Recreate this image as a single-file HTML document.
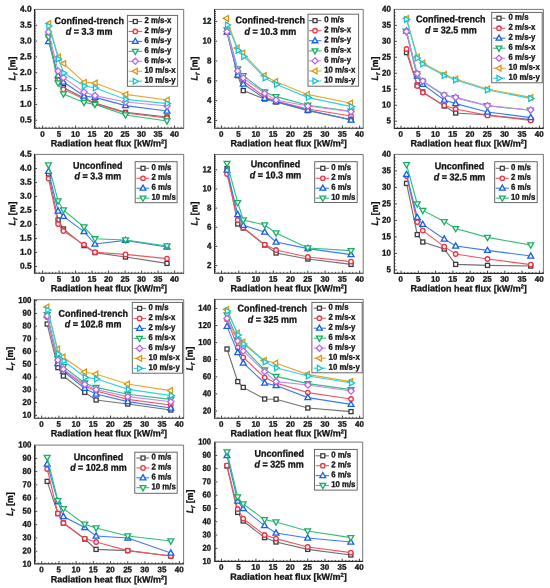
<!DOCTYPE html>
<html lang="en"><head><meta charset="utf-8"><title>Radiation heat flux figure</title>
<style>
html,body{margin:0;padding:0;background:#fff;}
body{width:550px;height:588px;overflow:hidden;}
svg{display:block;filter:blur(0.35px);}
text{stroke:#111;stroke-width:.28px;}
</style></head><body>
<svg width="550" height="588" viewBox="0 0 550 588" font-family="'Liberation Sans', Arial, sans-serif" font-weight="bold" fill="#111">
<rect width="550" height="588" fill="#fff"/>
<g>
<path d="M34.50 9.40H183.70V128.20" fill="none" stroke="#666" stroke-width="0.9"/>
<path d="M42.60 128.20v-2.6M59.10 128.20v-2.6M75.60 128.20v-2.6M92.10 128.20v-2.6M108.60 128.20v-2.6M125.10 128.20v-2.6M141.60 128.20v-2.6M158.10 128.20v-2.6M174.60 128.20v-2.6M34.50 25.23h2.6M34.50 41.06h2.6M34.50 56.89h2.6M34.50 72.72h2.6M34.50 88.55h2.6M34.50 104.38h2.6M34.50 120.21h2.6" stroke="#2a2a2a" stroke-width="0.9" fill="none"/>
<path d="M36.00 128.20v-1.4M39.30 128.20v-1.4M45.90 128.20v-1.4M49.20 128.20v-1.4M52.50 128.20v-1.4M55.80 128.20v-1.4M62.40 128.20v-1.4M65.70 128.20v-1.4M69.00 128.20v-1.4M72.30 128.20v-1.4M78.90 128.20v-1.4M82.20 128.20v-1.4M85.50 128.20v-1.4M88.80 128.20v-1.4M95.40 128.20v-1.4M98.70 128.20v-1.4M102.00 128.20v-1.4M105.30 128.20v-1.4M111.90 128.20v-1.4M115.20 128.20v-1.4M118.50 128.20v-1.4M121.80 128.20v-1.4M128.40 128.20v-1.4M131.70 128.20v-1.4M135.00 128.20v-1.4M138.30 128.20v-1.4M144.90 128.20v-1.4M148.20 128.20v-1.4M151.50 128.20v-1.4M154.80 128.20v-1.4M161.40 128.20v-1.4M164.70 128.20v-1.4M168.00 128.20v-1.4M171.30 128.20v-1.4M177.90 128.20v-1.4M181.20 128.20v-1.4M34.50 10.98h1.4M34.50 12.57h1.4M34.50 14.15h1.4M34.50 15.73h1.4M34.50 17.32h1.4M34.50 18.90h1.4M34.50 20.48h1.4M34.50 22.06h1.4M34.50 23.65h1.4M34.50 26.81h1.4M34.50 28.40h1.4M34.50 29.98h1.4M34.50 31.56h1.4M34.50 33.14h1.4M34.50 34.73h1.4M34.50 36.31h1.4M34.50 37.89h1.4M34.50 39.48h1.4M34.50 42.64h1.4M34.50 44.23h1.4M34.50 45.81h1.4M34.50 47.39h1.4M34.50 48.98h1.4M34.50 50.56h1.4M34.50 52.14h1.4M34.50 53.72h1.4M34.50 55.31h1.4M34.50 58.47h1.4M34.50 60.06h1.4M34.50 61.64h1.4M34.50 63.22h1.4M34.50 64.80h1.4M34.50 66.39h1.4M34.50 67.97h1.4M34.50 69.55h1.4M34.50 71.14h1.4M34.50 74.30h1.4M34.50 75.89h1.4M34.50 77.47h1.4M34.50 79.05h1.4M34.50 80.64h1.4M34.50 82.22h1.4M34.50 83.80h1.4M34.50 85.38h1.4M34.50 86.97h1.4M34.50 90.13h1.4M34.50 91.72h1.4M34.50 93.30h1.4M34.50 94.88h1.4M34.50 96.47h1.4M34.50 98.05h1.4M34.50 99.63h1.4M34.50 101.21h1.4M34.50 102.80h1.4M34.50 105.96h1.4M34.50 107.55h1.4M34.50 109.13h1.4M34.50 110.71h1.4M34.50 112.30h1.4M34.50 113.88h1.4M34.50 115.46h1.4M34.50 117.04h1.4M34.50 118.63h1.4M34.50 121.79h1.4M34.50 123.38h1.4M34.50 124.96h1.4M34.50 126.54h1.4" stroke="#333" stroke-width="0.75" fill="none"/>
<path d="M34.50 9.00V128.20H184.10" fill="none" stroke="#2a2a2a" stroke-width="1.15"/>
<text transform="translate(31.60 11.80) rotate(0.04) scale(1 1.030)" font-size="8.40" text-anchor="end">4.0</text>
<text transform="translate(31.60 27.63) rotate(0.04) scale(1 1.030)" font-size="8.40" text-anchor="end">3.5</text>
<text transform="translate(31.60 43.46) rotate(0.04) scale(1 1.030)" font-size="8.40" text-anchor="end">3.0</text>
<text transform="translate(31.60 59.29) rotate(0.04) scale(1 1.030)" font-size="8.40" text-anchor="end">2.5</text>
<text transform="translate(31.60 75.12) rotate(0.04) scale(1 1.030)" font-size="8.40" text-anchor="end">2.0</text>
<text transform="translate(31.60 90.95) rotate(0.04) scale(1 1.030)" font-size="8.40" text-anchor="end">1.5</text>
<text transform="translate(31.60 106.78) rotate(0.04) scale(1 1.030)" font-size="8.40" text-anchor="end">1.0</text>
<text transform="translate(31.60 122.61) rotate(0.04) scale(1 1.030)" font-size="8.40" text-anchor="end">0.5</text>
<text transform="translate(42.40 136.70) rotate(0.04)" font-size="8.00" text-anchor="middle">0</text>
<text transform="translate(58.90 136.70) rotate(0.04)" font-size="8.00" text-anchor="middle">5</text>
<text transform="translate(75.40 136.70) rotate(0.04)" font-size="8.00" text-anchor="middle">10</text>
<text transform="translate(91.90 136.70) rotate(0.04)" font-size="8.00" text-anchor="middle">15</text>
<text transform="translate(108.40 136.70) rotate(0.04)" font-size="8.00" text-anchor="middle">20</text>
<text transform="translate(124.90 136.70) rotate(0.04)" font-size="8.00" text-anchor="middle">25</text>
<text transform="translate(141.40 136.70) rotate(0.04)" font-size="8.00" text-anchor="middle">30</text>
<text transform="translate(157.90 136.70) rotate(0.04)" font-size="8.00" text-anchor="middle">35</text>
<text transform="translate(174.40 136.70) rotate(0.04)" font-size="8.00" text-anchor="middle">40</text>
<text transform="translate(108.90 146.30) rotate(0.04)" font-size="9.02" text-anchor="middle">Radiation heat flux [kW/m<tspan font-size="5.6" dy="-3.2">2</tspan><tspan dy="3.2">]</tspan></text>
<text transform="translate(15.20 68.50) rotate(-90.04) scale(1 1.080)" font-size="8.70" text-anchor="middle"><tspan font-style="italic">L</tspan><tspan font-style="italic" font-size="6.4" dy="1.8">r</tspan><tspan dy="-1.8"> [m]</tspan></text>
<text transform="translate(89.20 24.00) rotate(0.04) scale(1 1.080)" font-size="9.00" text-anchor="middle">Confined-trench</text>
<text transform="translate(89.20 34.80) rotate(0.04) scale(1 1.080)" font-size="9.00" text-anchor="middle"><tspan font-style="italic">d</tspan> = 3.3 mm</text>
<polyline points="48.51,35.00 58.10,79.60 63.42,87.60 84.00,98.00 94.96,103.00 125.50,112.40 167.00,117.00" fill="none" stroke="#707070" stroke-width="1.12"/>
<rect x="46.48" y="32.97" width="4.06" height="4.06" fill="#fff" stroke="#3a3a3a" stroke-width="1.30" stroke-linejoin="miter"/>
<rect x="56.08" y="77.57" width="4.06" height="4.06" fill="#fff" stroke="#3a3a3a" stroke-width="1.30" stroke-linejoin="miter"/>
<rect x="61.39" y="85.57" width="4.06" height="4.06" fill="#fff" stroke="#3a3a3a" stroke-width="1.30" stroke-linejoin="miter"/>
<rect x="81.97" y="95.97" width="4.06" height="4.06" fill="#fff" stroke="#3a3a3a" stroke-width="1.30" stroke-linejoin="miter"/>
<rect x="92.93" y="100.97" width="4.06" height="4.06" fill="#fff" stroke="#3a3a3a" stroke-width="1.30" stroke-linejoin="miter"/>
<rect x="123.47" y="110.37" width="4.06" height="4.06" fill="#fff" stroke="#3a3a3a" stroke-width="1.30" stroke-linejoin="miter"/>
<rect x="164.97" y="114.97" width="4.06" height="4.06" fill="#fff" stroke="#3a3a3a" stroke-width="1.30" stroke-linejoin="miter"/>
<polyline points="48.51,36.00 58.10,80.00 63.42,89.40 84.00,99.00 94.96,103.60 125.50,113.00 167.00,118.00" fill="none" stroke="#f25560" stroke-width="1.12"/>
<circle cx="48.51" cy="36.00" r="2.24" fill="#fff" stroke="#ee3344" stroke-width="1.30" stroke-linejoin="miter"/>
<circle cx="58.10" cy="80.00" r="2.24" fill="#fff" stroke="#ee3344" stroke-width="1.30" stroke-linejoin="miter"/>
<circle cx="63.42" cy="89.40" r="2.24" fill="#fff" stroke="#ee3344" stroke-width="1.30" stroke-linejoin="miter"/>
<circle cx="84.00" cy="99.00" r="2.24" fill="#fff" stroke="#ee3344" stroke-width="1.30" stroke-linejoin="miter"/>
<circle cx="94.96" cy="103.60" r="2.24" fill="#fff" stroke="#ee3344" stroke-width="1.30" stroke-linejoin="miter"/>
<circle cx="125.50" cy="113.00" r="2.24" fill="#fff" stroke="#ee3344" stroke-width="1.30" stroke-linejoin="miter"/>
<circle cx="167.00" cy="118.00" r="2.24" fill="#fff" stroke="#ee3344" stroke-width="1.30" stroke-linejoin="miter"/>
<polyline points="48.51,41.60 58.10,75.60 63.42,82.00 84.00,96.00 94.96,97.40 125.50,105.60 167.00,111.00" fill="none" stroke="#3a7cf0" stroke-width="1.12"/>
<path d="M48.51 38.41L51.46 43.66L45.56 43.66Z" fill="#fff" stroke="#1560e8" stroke-width="1.30" stroke-linejoin="miter"/>
<path d="M58.10 72.41L61.05 77.66L55.15 77.66Z" fill="#fff" stroke="#1560e8" stroke-width="1.30" stroke-linejoin="miter"/>
<path d="M63.42 78.81L66.37 84.06L60.47 84.06Z" fill="#fff" stroke="#1560e8" stroke-width="1.30" stroke-linejoin="miter"/>
<path d="M84.00 92.81L86.95 98.06L81.05 98.06Z" fill="#fff" stroke="#1560e8" stroke-width="1.30" stroke-linejoin="miter"/>
<path d="M94.96 94.21L97.91 99.47L92.01 99.47Z" fill="#fff" stroke="#1560e8" stroke-width="1.30" stroke-linejoin="miter"/>
<path d="M125.50 102.41L128.45 107.66L122.55 107.66Z" fill="#fff" stroke="#1560e8" stroke-width="1.30" stroke-linejoin="miter"/>
<path d="M167.00 107.81L169.95 113.06L164.05 113.06Z" fill="#fff" stroke="#1560e8" stroke-width="1.30" stroke-linejoin="miter"/>
<polyline points="48.51,37.00 58.10,83.00 63.42,94.00 84.00,102.40 94.96,104.40 125.50,115.00 167.00,121.00" fill="none" stroke="#2fbf78" stroke-width="1.12"/>
<path d="M48.51 40.19L51.46 34.94L45.56 34.94Z" fill="#fff" stroke="#18b064" stroke-width="1.30" stroke-linejoin="miter"/>
<path d="M58.10 86.19L61.05 80.94L55.15 80.94Z" fill="#fff" stroke="#18b064" stroke-width="1.30" stroke-linejoin="miter"/>
<path d="M63.42 97.19L66.37 91.94L60.47 91.94Z" fill="#fff" stroke="#18b064" stroke-width="1.30" stroke-linejoin="miter"/>
<path d="M84.00 105.59L86.95 100.34L81.05 100.34Z" fill="#fff" stroke="#18b064" stroke-width="1.30" stroke-linejoin="miter"/>
<path d="M94.96 107.59L97.91 102.34L92.01 102.34Z" fill="#fff" stroke="#18b064" stroke-width="1.30" stroke-linejoin="miter"/>
<path d="M125.50 118.19L128.45 112.94L122.55 112.94Z" fill="#fff" stroke="#18b064" stroke-width="1.30" stroke-linejoin="miter"/>
<path d="M167.00 124.19L169.95 118.94L164.05 118.94Z" fill="#fff" stroke="#18b064" stroke-width="1.30" stroke-linejoin="miter"/>
<polyline points="48.51,32.00 58.10,71.00 63.42,77.60 84.00,92.00 94.96,95.60 125.50,102.00 167.00,106.00" fill="none" stroke="#c98af0" stroke-width="1.12"/>
<path d="M48.51 28.87L51.65 32.00L48.51 35.13L45.38 32.00Z" fill="#fff" stroke="#b866e8" stroke-width="1.30" stroke-linejoin="miter"/>
<path d="M58.10 67.86L61.24 71.00L58.10 74.14L54.97 71.00Z" fill="#fff" stroke="#b866e8" stroke-width="1.30" stroke-linejoin="miter"/>
<path d="M63.42 74.46L66.55 77.60L63.42 80.73L60.28 77.60Z" fill="#fff" stroke="#b866e8" stroke-width="1.30" stroke-linejoin="miter"/>
<path d="M84.00 88.86L87.14 92.00L84.00 95.14L80.86 92.00Z" fill="#fff" stroke="#b866e8" stroke-width="1.30" stroke-linejoin="miter"/>
<path d="M94.96 92.46L98.09 95.60L94.96 98.73L91.82 95.60Z" fill="#fff" stroke="#b866e8" stroke-width="1.30" stroke-linejoin="miter"/>
<path d="M125.50 98.86L128.63 102.00L125.50 105.14L122.36 102.00Z" fill="#fff" stroke="#b866e8" stroke-width="1.30" stroke-linejoin="miter"/>
<path d="M167.00 102.86L170.13 106.00L167.00 109.14L163.87 106.00Z" fill="#fff" stroke="#b866e8" stroke-width="1.30" stroke-linejoin="miter"/>
<polyline points="48.71,23.60 58.30,57.00 63.62,63.60 84.20,82.40 95.16,83.00 125.70,94.40 167.20,100.00" fill="none" stroke="#e6a830" stroke-width="1.12"/>
<path d="M45.61 23.60L50.72 20.73L50.72 26.48Z" fill="#fff" stroke="#dc9612" stroke-width="1.30" stroke-linejoin="miter"/>
<path d="M55.20 57.00L60.32 54.12L60.32 59.88Z" fill="#fff" stroke="#dc9612" stroke-width="1.30" stroke-linejoin="miter"/>
<path d="M60.51 63.60L65.63 60.73L65.63 66.47Z" fill="#fff" stroke="#dc9612" stroke-width="1.30" stroke-linejoin="miter"/>
<path d="M81.09 82.40L86.21 79.53L86.21 85.28Z" fill="#fff" stroke="#dc9612" stroke-width="1.30" stroke-linejoin="miter"/>
<path d="M92.05 83.00L97.17 80.12L97.17 85.88Z" fill="#fff" stroke="#dc9612" stroke-width="1.30" stroke-linejoin="miter"/>
<path d="M122.59 94.40L127.71 91.53L127.71 97.28Z" fill="#fff" stroke="#dc9612" stroke-width="1.30" stroke-linejoin="miter"/>
<path d="M164.09 100.00L169.21 97.12L169.21 102.88Z" fill="#fff" stroke="#dc9612" stroke-width="1.30" stroke-linejoin="miter"/>
<polyline points="48.91,26.00 58.50,59.00 63.82,73.00 84.40,86.00 95.36,88.00 125.90,99.40 167.40,103.60" fill="none" stroke="#30d4dc" stroke-width="1.12"/>
<path d="M52.02 26.00L46.90 23.12L46.90 28.88Z" fill="#fff" stroke="#14c4d0" stroke-width="1.30" stroke-linejoin="miter"/>
<path d="M61.61 59.00L56.49 56.12L56.49 61.88Z" fill="#fff" stroke="#14c4d0" stroke-width="1.30" stroke-linejoin="miter"/>
<path d="M66.92 73.00L61.80 70.12L61.80 75.88Z" fill="#fff" stroke="#14c4d0" stroke-width="1.30" stroke-linejoin="miter"/>
<path d="M87.51 86.00L82.39 83.12L82.39 88.88Z" fill="#fff" stroke="#14c4d0" stroke-width="1.30" stroke-linejoin="miter"/>
<path d="M98.46 88.00L93.34 85.12L93.34 90.88Z" fill="#fff" stroke="#14c4d0" stroke-width="1.30" stroke-linejoin="miter"/>
<path d="M129.00 99.40L123.89 96.53L123.89 102.28Z" fill="#fff" stroke="#14c4d0" stroke-width="1.30" stroke-linejoin="miter"/>
<path d="M170.50 103.60L165.39 100.72L165.39 106.47Z" fill="#fff" stroke="#14c4d0" stroke-width="1.30" stroke-linejoin="miter"/>
<rect x="127.40" y="15.40" width="50.20" height="70.90" fill="#fff" stroke="#606060" stroke-width="0.95"/>
<path d="M128.50 21.50H142.20" stroke="#707070" stroke-width="1.1"/>
<rect x="133.31" y="19.51" width="3.97" height="3.97" fill="#fff" stroke="#3a3a3a" stroke-width="1.30" stroke-linejoin="miter"/>
<text transform="translate(144.50 23.10) rotate(0.04) scale(1 1.090)" font-size="7.80">2 m/s-x</text>
<path d="M128.50 31.45H142.20" stroke="#f25560" stroke-width="1.1"/>
<circle cx="135.30" cy="31.45" r="2.19" fill="#fff" stroke="#ee3344" stroke-width="1.30" stroke-linejoin="miter"/>
<text transform="translate(144.50 33.05) rotate(0.04) scale(1 1.090)" font-size="7.80">2 m/s-y</text>
<path d="M128.50 41.40H142.20" stroke="#3a7cf0" stroke-width="1.1"/>
<path d="M135.30 38.28L138.19 43.42L132.41 43.42Z" fill="#fff" stroke="#1560e8" stroke-width="1.30" stroke-linejoin="miter"/>
<text transform="translate(144.50 43.00) rotate(0.04) scale(1 1.090)" font-size="7.80">6 m/s-y</text>
<path d="M128.50 51.35H142.20" stroke="#2fbf78" stroke-width="1.1"/>
<path d="M135.30 54.47L138.19 49.33L132.41 49.33Z" fill="#fff" stroke="#18b064" stroke-width="1.30" stroke-linejoin="miter"/>
<text transform="translate(144.50 52.95) rotate(0.04) scale(1 1.090)" font-size="7.80">6 m/s-y</text>
<path d="M128.50 61.30H142.20" stroke="#c98af0" stroke-width="1.1"/>
<path d="M135.30 58.23L138.37 61.30L135.30 64.37L132.23 61.30Z" fill="#fff" stroke="#b866e8" stroke-width="1.30" stroke-linejoin="miter"/>
<text transform="translate(144.50 62.90) rotate(0.04) scale(1 1.090)" font-size="7.80">6 m/s-x</text>
<path d="M128.50 71.25H142.20" stroke="#e6a830" stroke-width="1.1"/>
<path d="M132.26 71.25L137.27 68.43L137.27 74.07Z" fill="#fff" stroke="#dc9612" stroke-width="1.30" stroke-linejoin="miter"/>
<text transform="translate(144.50 72.85) rotate(0.04) scale(1 1.090)" font-size="7.80">10 m/s-x</text>
<path d="M128.50 81.20H142.20" stroke="#30d4dc" stroke-width="1.1"/>
<path d="M138.34 81.20L133.33 78.38L133.33 84.02Z" fill="#fff" stroke="#14c4d0" stroke-width="1.30" stroke-linejoin="miter"/>
<text transform="translate(144.50 82.80) rotate(0.04) scale(1 1.090)" font-size="7.80">10 m/s-y</text>
</g>
<g>
<path d="M214.60 9.40H363.20V128.20" fill="none" stroke="#666" stroke-width="0.9"/>
<path d="M221.50 128.20v-2.6M238.77 128.20v-2.6M256.04 128.20v-2.6M273.31 128.20v-2.6M290.58 128.20v-2.6M307.85 128.20v-2.6M325.12 128.20v-2.6M342.39 128.20v-2.6M359.66 128.20v-2.6M214.60 21.40h2.6M214.60 41.20h2.6M214.60 61.00h2.6M214.60 80.80h2.6M214.60 100.60h2.6M214.60 120.40h2.6" stroke="#2a2a2a" stroke-width="0.9" fill="none"/>
<path d="M218.05 128.20v-1.4M224.95 128.20v-1.4M228.41 128.20v-1.4M231.86 128.20v-1.4M235.32 128.20v-1.4M242.22 128.20v-1.4M245.68 128.20v-1.4M249.13 128.20v-1.4M252.59 128.20v-1.4M259.49 128.20v-1.4M262.95 128.20v-1.4M266.40 128.20v-1.4M269.86 128.20v-1.4M276.76 128.20v-1.4M280.22 128.20v-1.4M283.67 128.20v-1.4M287.13 128.20v-1.4M294.03 128.20v-1.4M297.49 128.20v-1.4M300.94 128.20v-1.4M304.40 128.20v-1.4M311.30 128.20v-1.4M314.76 128.20v-1.4M318.21 128.20v-1.4M321.67 128.20v-1.4M328.57 128.20v-1.4M332.03 128.20v-1.4M335.48 128.20v-1.4M338.94 128.20v-1.4M345.84 128.20v-1.4M349.30 128.20v-1.4M352.75 128.20v-1.4M356.21 128.20v-1.4M214.60 11.50h1.4M214.60 13.48h1.4M214.60 15.46h1.4M214.60 17.44h1.4M214.60 19.42h1.4M214.60 23.38h1.4M214.60 25.36h1.4M214.60 27.34h1.4M214.60 29.32h1.4M214.60 31.30h1.4M214.60 33.28h1.4M214.60 35.26h1.4M214.60 37.24h1.4M214.60 39.22h1.4M214.60 43.18h1.4M214.60 45.16h1.4M214.60 47.14h1.4M214.60 49.12h1.4M214.60 51.10h1.4M214.60 53.08h1.4M214.60 55.06h1.4M214.60 57.04h1.4M214.60 59.02h1.4M214.60 62.98h1.4M214.60 64.96h1.4M214.60 66.94h1.4M214.60 68.92h1.4M214.60 70.90h1.4M214.60 72.88h1.4M214.60 74.86h1.4M214.60 76.84h1.4M214.60 78.82h1.4M214.60 82.78h1.4M214.60 84.76h1.4M214.60 86.74h1.4M214.60 88.72h1.4M214.60 90.70h1.4M214.60 92.68h1.4M214.60 94.66h1.4M214.60 96.64h1.4M214.60 98.62h1.4M214.60 102.58h1.4M214.60 104.56h1.4M214.60 106.54h1.4M214.60 108.52h1.4M214.60 110.50h1.4M214.60 112.48h1.4M214.60 114.46h1.4M214.60 116.44h1.4M214.60 118.42h1.4M214.60 122.38h1.4M214.60 124.36h1.4M214.60 126.34h1.4" stroke="#333" stroke-width="0.75" fill="none"/>
<path d="M214.60 9.00V128.20H363.60" fill="none" stroke="#2a2a2a" stroke-width="1.15"/>
<text transform="translate(211.40 23.80) rotate(0.04) scale(1 1.081)" font-size="8.00" text-anchor="end">12</text>
<text transform="translate(211.40 43.60) rotate(0.04) scale(1 1.081)" font-size="8.00" text-anchor="end">10</text>
<text transform="translate(211.40 63.40) rotate(0.04) scale(1 1.081)" font-size="8.00" text-anchor="end">8</text>
<text transform="translate(211.40 83.20) rotate(0.04) scale(1 1.081)" font-size="8.00" text-anchor="end">6</text>
<text transform="translate(211.40 103.00) rotate(0.04) scale(1 1.081)" font-size="8.00" text-anchor="end">4</text>
<text transform="translate(211.40 122.80) rotate(0.04) scale(1 1.081)" font-size="8.00" text-anchor="end">2</text>
<text transform="translate(221.30 136.70) rotate(0.04)" font-size="8.00" text-anchor="middle">0</text>
<text transform="translate(238.57 136.70) rotate(0.04)" font-size="8.00" text-anchor="middle">5</text>
<text transform="translate(255.84 136.70) rotate(0.04)" font-size="8.00" text-anchor="middle">10</text>
<text transform="translate(273.11 136.70) rotate(0.04)" font-size="8.00" text-anchor="middle">15</text>
<text transform="translate(290.38 136.70) rotate(0.04)" font-size="8.00" text-anchor="middle">20</text>
<text transform="translate(307.65 136.70) rotate(0.04)" font-size="8.00" text-anchor="middle">25</text>
<text transform="translate(324.92 136.70) rotate(0.04)" font-size="8.00" text-anchor="middle">30</text>
<text transform="translate(342.19 136.70) rotate(0.04)" font-size="8.00" text-anchor="middle">35</text>
<text transform="translate(359.46 136.70) rotate(0.04)" font-size="8.00" text-anchor="middle">40</text>
<text transform="translate(288.70 146.30) rotate(0.04)" font-size="9.02" text-anchor="middle">Radiation heat flux [kW/m<tspan font-size="5.6" dy="-3.2">2</tspan><tspan dy="3.2">]</tspan></text>
<text transform="translate(197.50 68.50) rotate(-90.04) scale(1 1.080)" font-size="8.70" text-anchor="middle"><tspan font-style="italic">L</tspan><tspan font-style="italic" font-size="6.4" dy="1.8">r</tspan><tspan dy="-1.8"> [m]</tspan></text>
<text transform="translate(270.30 23.20) rotate(0.04) scale(1 1.080)" font-size="9.00" text-anchor="middle">Confined-trench</text>
<text transform="translate(270.30 34.80) rotate(0.04) scale(1 1.080)" font-size="9.00" text-anchor="middle"><tspan font-style="italic">d</tspan> = 10.3 mm</text>
<polyline points="227.03,32.00 237.73,75.60 243.26,90.60 264.68,99.00 276.07,102.00 307.85,110.60 351.02,119.60" fill="none" stroke="#707070" stroke-width="1.12"/>
<rect x="225.00" y="29.97" width="4.06" height="4.06" fill="#fff" stroke="#3a3a3a" stroke-width="1.30" stroke-linejoin="miter"/>
<rect x="235.71" y="73.57" width="4.06" height="4.06" fill="#fff" stroke="#3a3a3a" stroke-width="1.30" stroke-linejoin="miter"/>
<rect x="241.23" y="88.57" width="4.06" height="4.06" fill="#fff" stroke="#3a3a3a" stroke-width="1.30" stroke-linejoin="miter"/>
<rect x="262.65" y="96.97" width="4.06" height="4.06" fill="#fff" stroke="#3a3a3a" stroke-width="1.30" stroke-linejoin="miter"/>
<rect x="274.05" y="99.97" width="4.06" height="4.06" fill="#fff" stroke="#3a3a3a" stroke-width="1.30" stroke-linejoin="miter"/>
<rect x="305.82" y="108.57" width="4.06" height="4.06" fill="#fff" stroke="#3a3a3a" stroke-width="1.30" stroke-linejoin="miter"/>
<rect x="349.00" y="117.57" width="4.06" height="4.06" fill="#fff" stroke="#3a3a3a" stroke-width="1.30" stroke-linejoin="miter"/>
<polyline points="227.03,32.00 237.73,74.40 243.26,81.00 264.68,97.00 276.07,101.00 307.85,109.00 351.02,116.00" fill="none" stroke="#f25560" stroke-width="1.12"/>
<circle cx="227.03" cy="32.00" r="2.24" fill="#fff" stroke="#ee3344" stroke-width="1.30" stroke-linejoin="miter"/>
<circle cx="237.73" cy="74.40" r="2.24" fill="#fff" stroke="#ee3344" stroke-width="1.30" stroke-linejoin="miter"/>
<circle cx="243.26" cy="81.00" r="2.24" fill="#fff" stroke="#ee3344" stroke-width="1.30" stroke-linejoin="miter"/>
<circle cx="264.68" cy="97.00" r="2.24" fill="#fff" stroke="#ee3344" stroke-width="1.30" stroke-linejoin="miter"/>
<circle cx="276.07" cy="101.00" r="2.24" fill="#fff" stroke="#ee3344" stroke-width="1.30" stroke-linejoin="miter"/>
<circle cx="307.85" cy="109.00" r="2.24" fill="#fff" stroke="#ee3344" stroke-width="1.30" stroke-linejoin="miter"/>
<circle cx="351.02" cy="116.00" r="2.24" fill="#fff" stroke="#ee3344" stroke-width="1.30" stroke-linejoin="miter"/>
<polyline points="227.03,32.00 237.73,75.00 243.26,84.00 264.68,98.40 276.07,101.60 307.85,110.00 351.02,120.00" fill="none" stroke="#3a7cf0" stroke-width="1.12"/>
<path d="M227.03 28.81L229.98 34.06L224.08 34.06Z" fill="#fff" stroke="#1560e8" stroke-width="1.30" stroke-linejoin="miter"/>
<path d="M237.73 71.81L240.68 77.06L234.78 77.06Z" fill="#fff" stroke="#1560e8" stroke-width="1.30" stroke-linejoin="miter"/>
<path d="M243.26 80.81L246.21 86.06L240.31 86.06Z" fill="#fff" stroke="#1560e8" stroke-width="1.30" stroke-linejoin="miter"/>
<path d="M264.68 95.21L267.62 100.47L261.73 100.47Z" fill="#fff" stroke="#1560e8" stroke-width="1.30" stroke-linejoin="miter"/>
<path d="M276.07 98.41L279.02 103.66L273.12 103.66Z" fill="#fff" stroke="#1560e8" stroke-width="1.30" stroke-linejoin="miter"/>
<path d="M307.85 106.81L310.80 112.06L304.90 112.06Z" fill="#fff" stroke="#1560e8" stroke-width="1.30" stroke-linejoin="miter"/>
<path d="M351.02 116.81L353.97 122.06L348.07 122.06Z" fill="#fff" stroke="#1560e8" stroke-width="1.30" stroke-linejoin="miter"/>
<polyline points="227.03,30.00 237.73,69.00 243.26,75.60 264.68,92.00 276.07,96.60 307.85,105.20 351.02,111.20" fill="none" stroke="#2fbf78" stroke-width="1.12"/>
<path d="M227.03 33.19L229.98 27.93L224.08 27.93Z" fill="#fff" stroke="#18b064" stroke-width="1.30" stroke-linejoin="miter"/>
<path d="M237.73 72.19L240.68 66.94L234.78 66.94Z" fill="#fff" stroke="#18b064" stroke-width="1.30" stroke-linejoin="miter"/>
<path d="M243.26 78.79L246.21 73.53L240.31 73.53Z" fill="#fff" stroke="#18b064" stroke-width="1.30" stroke-linejoin="miter"/>
<path d="M264.68 95.19L267.62 89.94L261.73 89.94Z" fill="#fff" stroke="#18b064" stroke-width="1.30" stroke-linejoin="miter"/>
<path d="M276.07 99.79L279.02 94.53L273.12 94.53Z" fill="#fff" stroke="#18b064" stroke-width="1.30" stroke-linejoin="miter"/>
<path d="M307.85 108.39L310.80 103.14L304.90 103.14Z" fill="#fff" stroke="#18b064" stroke-width="1.30" stroke-linejoin="miter"/>
<path d="M351.02 114.39L353.97 109.14L348.07 109.14Z" fill="#fff" stroke="#18b064" stroke-width="1.30" stroke-linejoin="miter"/>
<polyline points="227.03,31.60 237.73,71.00 243.26,78.00 264.68,93.40 276.07,100.00 307.85,106.00 351.02,111.60" fill="none" stroke="#c98af0" stroke-width="1.12"/>
<path d="M227.03 28.47L230.16 31.60L227.03 34.73L223.89 31.60Z" fill="#fff" stroke="#b866e8" stroke-width="1.30" stroke-linejoin="miter"/>
<path d="M237.73 67.86L240.87 71.00L237.73 74.14L234.60 71.00Z" fill="#fff" stroke="#b866e8" stroke-width="1.30" stroke-linejoin="miter"/>
<path d="M243.26 74.86L246.40 78.00L243.26 81.14L240.13 78.00Z" fill="#fff" stroke="#b866e8" stroke-width="1.30" stroke-linejoin="miter"/>
<path d="M264.68 90.27L267.81 93.40L264.68 96.54L261.54 93.40Z" fill="#fff" stroke="#b866e8" stroke-width="1.30" stroke-linejoin="miter"/>
<path d="M276.07 96.86L279.21 100.00L276.07 103.14L272.94 100.00Z" fill="#fff" stroke="#b866e8" stroke-width="1.30" stroke-linejoin="miter"/>
<path d="M307.85 102.86L310.99 106.00L307.85 109.14L304.72 106.00Z" fill="#fff" stroke="#b866e8" stroke-width="1.30" stroke-linejoin="miter"/>
<path d="M351.02 108.46L354.16 111.60L351.02 114.73L347.89 111.60Z" fill="#fff" stroke="#b866e8" stroke-width="1.30" stroke-linejoin="miter"/>
<polyline points="226.43,18.40 237.13,48.00 242.66,53.00 264.07,75.60 275.47,81.60 307.25,94.40 350.42,103.00" fill="none" stroke="#e6a830" stroke-width="1.12"/>
<path d="M223.32 18.40L228.44 15.52L228.44 21.27Z" fill="#fff" stroke="#dc9612" stroke-width="1.30" stroke-linejoin="miter"/>
<path d="M234.03 48.00L239.15 45.12L239.15 50.88Z" fill="#fff" stroke="#dc9612" stroke-width="1.30" stroke-linejoin="miter"/>
<path d="M239.56 53.00L244.67 50.12L244.67 55.88Z" fill="#fff" stroke="#dc9612" stroke-width="1.30" stroke-linejoin="miter"/>
<path d="M260.97 75.60L266.09 72.72L266.09 78.47Z" fill="#fff" stroke="#dc9612" stroke-width="1.30" stroke-linejoin="miter"/>
<path d="M272.37 81.60L277.49 78.72L277.49 84.47Z" fill="#fff" stroke="#dc9612" stroke-width="1.30" stroke-linejoin="miter"/>
<path d="M304.14 94.40L309.26 91.53L309.26 97.28Z" fill="#fff" stroke="#dc9612" stroke-width="1.30" stroke-linejoin="miter"/>
<path d="M347.32 103.00L352.44 100.12L352.44 105.88Z" fill="#fff" stroke="#dc9612" stroke-width="1.30" stroke-linejoin="miter"/>
<polyline points="227.53,25.00 238.23,50.40 243.76,56.40 265.18,78.00 276.57,84.40 308.35,97.60 351.52,106.60" fill="none" stroke="#30d4dc" stroke-width="1.12"/>
<path d="M230.63 25.00L225.51 22.12L225.51 27.88Z" fill="#fff" stroke="#14c4d0" stroke-width="1.30" stroke-linejoin="miter"/>
<path d="M241.34 50.40L236.22 47.52L236.22 53.27Z" fill="#fff" stroke="#14c4d0" stroke-width="1.30" stroke-linejoin="miter"/>
<path d="M246.87 56.40L241.75 53.52L241.75 59.27Z" fill="#fff" stroke="#14c4d0" stroke-width="1.30" stroke-linejoin="miter"/>
<path d="M268.28 78.00L263.16 75.12L263.16 80.88Z" fill="#fff" stroke="#14c4d0" stroke-width="1.30" stroke-linejoin="miter"/>
<path d="M279.68 84.40L274.56 81.53L274.56 87.28Z" fill="#fff" stroke="#14c4d0" stroke-width="1.30" stroke-linejoin="miter"/>
<path d="M311.46 97.60L306.34 94.72L306.34 100.47Z" fill="#fff" stroke="#14c4d0" stroke-width="1.30" stroke-linejoin="miter"/>
<path d="M354.63 106.60L349.51 103.72L349.51 109.47Z" fill="#fff" stroke="#14c4d0" stroke-width="1.30" stroke-linejoin="miter"/>
<rect x="308.00" y="14.20" width="50.60" height="72.00" fill="#fff" stroke="#606060" stroke-width="0.95"/>
<path d="M309.00 20.60H321.50" stroke="#707070" stroke-width="1.1"/>
<rect x="313.01" y="18.61" width="3.97" height="3.97" fill="#fff" stroke="#3a3a3a" stroke-width="1.30" stroke-linejoin="miter"/>
<text transform="translate(324.20 22.20) rotate(0.04) scale(1 1.090)" font-size="7.80">0 m/s</text>
<path d="M309.00 30.67H321.50" stroke="#f25560" stroke-width="1.1"/>
<circle cx="315.00" cy="30.67" r="2.19" fill="#fff" stroke="#ee3344" stroke-width="1.30" stroke-linejoin="miter"/>
<text transform="translate(324.20 32.27) rotate(0.04) scale(1 1.090)" font-size="7.80">2 m/s-x</text>
<path d="M309.00 40.74H321.50" stroke="#3a7cf0" stroke-width="1.1"/>
<path d="M315.00 37.62L317.89 42.76L312.11 42.76Z" fill="#fff" stroke="#1560e8" stroke-width="1.30" stroke-linejoin="miter"/>
<text transform="translate(324.20 42.34) rotate(0.04) scale(1 1.090)" font-size="7.80">2 m/s-y</text>
<path d="M309.00 50.81H321.50" stroke="#2fbf78" stroke-width="1.1"/>
<path d="M315.00 53.93L317.89 48.79L312.11 48.79Z" fill="#fff" stroke="#18b064" stroke-width="1.30" stroke-linejoin="miter"/>
<text transform="translate(324.20 52.41) rotate(0.04) scale(1 1.090)" font-size="7.80">6 m/s-x</text>
<path d="M309.00 60.88H321.50" stroke="#c98af0" stroke-width="1.1"/>
<path d="M315.00 57.81L318.07 60.88L315.00 63.95L311.93 60.88Z" fill="#fff" stroke="#b866e8" stroke-width="1.30" stroke-linejoin="miter"/>
<text transform="translate(324.20 62.48) rotate(0.04) scale(1 1.090)" font-size="7.80">6 m/s-y</text>
<path d="M309.00 70.95H321.50" stroke="#e6a830" stroke-width="1.1"/>
<path d="M311.96 70.95L316.97 68.13L316.97 73.77Z" fill="#fff" stroke="#dc9612" stroke-width="1.30" stroke-linejoin="miter"/>
<text transform="translate(324.20 72.55) rotate(0.04) scale(1 1.090)" font-size="7.80">10 m/s-x</text>
<path d="M309.00 81.02H321.50" stroke="#30d4dc" stroke-width="1.1"/>
<path d="M318.04 81.02L313.03 78.20L313.03 83.84Z" fill="#fff" stroke="#14c4d0" stroke-width="1.30" stroke-linejoin="miter"/>
<text transform="translate(324.20 82.62) rotate(0.04) scale(1 1.090)" font-size="7.80">10 m/s-y</text>
</g>
<g>
<path d="M394.30 9.40H543.40V128.30" fill="none" stroke="#666" stroke-width="0.9"/>
<path d="M401.00 128.30v-2.6M418.30 128.30v-2.6M435.60 128.30v-2.6M452.90 128.30v-2.6M470.20 128.30v-2.6M487.50 128.30v-2.6M504.80 128.30v-2.6M522.10 128.30v-2.6M539.40 128.30v-2.6M394.30 25.37h2.6M394.30 41.34h2.6M394.30 57.31h2.6M394.30 73.28h2.6M394.30 89.25h2.6M394.30 105.22h2.6M394.30 121.19h2.6" stroke="#2a2a2a" stroke-width="0.9" fill="none"/>
<path d="M397.54 128.30v-1.4M404.46 128.30v-1.4M407.92 128.30v-1.4M411.38 128.30v-1.4M414.84 128.30v-1.4M421.76 128.30v-1.4M425.22 128.30v-1.4M428.68 128.30v-1.4M432.14 128.30v-1.4M439.06 128.30v-1.4M442.52 128.30v-1.4M445.98 128.30v-1.4M449.44 128.30v-1.4M456.36 128.30v-1.4M459.82 128.30v-1.4M463.28 128.30v-1.4M466.74 128.30v-1.4M473.66 128.30v-1.4M477.12 128.30v-1.4M480.58 128.30v-1.4M484.04 128.30v-1.4M490.96 128.30v-1.4M494.42 128.30v-1.4M497.88 128.30v-1.4M501.34 128.30v-1.4M508.26 128.30v-1.4M511.72 128.30v-1.4M515.18 128.30v-1.4M518.64 128.30v-1.4M525.56 128.30v-1.4M529.02 128.30v-1.4M532.48 128.30v-1.4M535.94 128.30v-1.4M542.86 128.30v-1.4M394.30 12.59h1.4M394.30 15.79h1.4M394.30 18.98h1.4M394.30 22.18h1.4M394.30 28.56h1.4M394.30 31.76h1.4M394.30 34.95h1.4M394.30 38.15h1.4M394.30 44.53h1.4M394.30 47.73h1.4M394.30 50.92h1.4M394.30 54.12h1.4M394.30 60.50h1.4M394.30 63.70h1.4M394.30 66.89h1.4M394.30 70.09h1.4M394.30 76.47h1.4M394.30 79.67h1.4M394.30 82.86h1.4M394.30 86.06h1.4M394.30 92.44h1.4M394.30 95.64h1.4M394.30 98.83h1.4M394.30 102.03h1.4M394.30 108.41h1.4M394.30 111.61h1.4M394.30 114.80h1.4M394.30 118.00h1.4M394.30 124.38h1.4" stroke="#333" stroke-width="0.75" fill="none"/>
<path d="M394.30 9.00V128.30H543.80" fill="none" stroke="#2a2a2a" stroke-width="1.15"/>
<text transform="translate(391.00 11.80) rotate(0.04) scale(1 1.081)" font-size="8.00" text-anchor="end">40</text>
<text transform="translate(391.00 27.77) rotate(0.04) scale(1 1.081)" font-size="8.00" text-anchor="end">35</text>
<text transform="translate(391.00 43.74) rotate(0.04) scale(1 1.081)" font-size="8.00" text-anchor="end">30</text>
<text transform="translate(391.00 59.71) rotate(0.04) scale(1 1.081)" font-size="8.00" text-anchor="end">25</text>
<text transform="translate(391.00 75.68) rotate(0.04) scale(1 1.081)" font-size="8.00" text-anchor="end">20</text>
<text transform="translate(391.00 91.65) rotate(0.04) scale(1 1.081)" font-size="8.00" text-anchor="end">15</text>
<text transform="translate(391.00 107.62) rotate(0.04) scale(1 1.081)" font-size="8.00" text-anchor="end">10</text>
<text transform="translate(391.00 123.59) rotate(0.04) scale(1 1.081)" font-size="8.00" text-anchor="end">5</text>
<text transform="translate(400.80 136.80) rotate(0.04)" font-size="8.00" text-anchor="middle">0</text>
<text transform="translate(418.10 136.80) rotate(0.04)" font-size="8.00" text-anchor="middle">5</text>
<text transform="translate(435.40 136.80) rotate(0.04)" font-size="8.00" text-anchor="middle">10</text>
<text transform="translate(452.70 136.80) rotate(0.04)" font-size="8.00" text-anchor="middle">15</text>
<text transform="translate(470.00 136.80) rotate(0.04)" font-size="8.00" text-anchor="middle">20</text>
<text transform="translate(487.30 136.80) rotate(0.04)" font-size="8.00" text-anchor="middle">25</text>
<text transform="translate(504.60 136.80) rotate(0.04)" font-size="8.00" text-anchor="middle">30</text>
<text transform="translate(521.90 136.80) rotate(0.04)" font-size="8.00" text-anchor="middle">35</text>
<text transform="translate(539.20 136.80) rotate(0.04)" font-size="8.00" text-anchor="middle">40</text>
<text transform="translate(468.65 146.40) rotate(0.04)" font-size="9.02" text-anchor="middle">Radiation heat flux [kW/m<tspan font-size="5.6" dy="-3.2">2</tspan><tspan dy="3.2">]</tspan></text>
<text transform="translate(378.00 68.55) rotate(-90.04) scale(1 1.080)" font-size="8.70" text-anchor="middle"><tspan font-style="italic">L</tspan><tspan font-style="italic" font-size="6.4" dy="1.8">r</tspan><tspan dy="-1.8"> [m]</tspan></text>
<text transform="translate(450.80 22.20) rotate(0.04) scale(1 1.080)" font-size="9.00" text-anchor="middle">Confined-trench</text>
<text transform="translate(450.80 33.20) rotate(0.04) scale(1 1.080)" font-size="9.00" text-anchor="middle"><tspan font-style="italic">d</tspan> = 32.5 mm</text>
<polyline points="406.54,52.60 417.26,85.00 422.80,92.00 444.25,106.00 455.67,113.00 487.50,115.00 530.75,119.60" fill="none" stroke="#707070" stroke-width="1.12"/>
<rect x="404.51" y="50.57" width="4.06" height="4.06" fill="#fff" stroke="#3a3a3a" stroke-width="1.30" stroke-linejoin="miter"/>
<rect x="415.23" y="82.97" width="4.06" height="4.06" fill="#fff" stroke="#3a3a3a" stroke-width="1.30" stroke-linejoin="miter"/>
<rect x="420.77" y="89.97" width="4.06" height="4.06" fill="#fff" stroke="#3a3a3a" stroke-width="1.30" stroke-linejoin="miter"/>
<rect x="442.22" y="103.97" width="4.06" height="4.06" fill="#fff" stroke="#3a3a3a" stroke-width="1.30" stroke-linejoin="miter"/>
<rect x="453.64" y="110.97" width="4.06" height="4.06" fill="#fff" stroke="#3a3a3a" stroke-width="1.30" stroke-linejoin="miter"/>
<rect x="485.47" y="112.97" width="4.06" height="4.06" fill="#fff" stroke="#3a3a3a" stroke-width="1.30" stroke-linejoin="miter"/>
<rect x="528.72" y="117.57" width="4.06" height="4.06" fill="#fff" stroke="#3a3a3a" stroke-width="1.30" stroke-linejoin="miter"/>
<polyline points="406.54,49.00 417.26,86.00 422.80,92.60 444.25,105.60 455.67,109.00 487.50,115.40 530.75,120.40" fill="none" stroke="#f25560" stroke-width="1.12"/>
<circle cx="406.54" cy="49.00" r="2.24" fill="#fff" stroke="#ee3344" stroke-width="1.30" stroke-linejoin="miter"/>
<circle cx="417.26" cy="86.00" r="2.24" fill="#fff" stroke="#ee3344" stroke-width="1.30" stroke-linejoin="miter"/>
<circle cx="422.80" cy="92.60" r="2.24" fill="#fff" stroke="#ee3344" stroke-width="1.30" stroke-linejoin="miter"/>
<circle cx="444.25" cy="105.60" r="2.24" fill="#fff" stroke="#ee3344" stroke-width="1.30" stroke-linejoin="miter"/>
<circle cx="455.67" cy="109.00" r="2.24" fill="#fff" stroke="#ee3344" stroke-width="1.30" stroke-linejoin="miter"/>
<circle cx="487.50" cy="115.40" r="2.24" fill="#fff" stroke="#ee3344" stroke-width="1.30" stroke-linejoin="miter"/>
<circle cx="530.75" cy="120.40" r="2.24" fill="#fff" stroke="#ee3344" stroke-width="1.30" stroke-linejoin="miter"/>
<polyline points="406.54,31.00 417.26,76.00 422.80,84.40 444.25,100.00 455.67,103.60 487.50,112.00 530.75,117.60" fill="none" stroke="#3a7cf0" stroke-width="1.12"/>
<path d="M406.54 27.81L409.49 33.06L403.59 33.06Z" fill="#fff" stroke="#1560e8" stroke-width="1.30" stroke-linejoin="miter"/>
<path d="M417.26 72.81L420.21 78.06L414.31 78.06Z" fill="#fff" stroke="#1560e8" stroke-width="1.30" stroke-linejoin="miter"/>
<path d="M422.80 81.21L425.75 86.47L419.85 86.47Z" fill="#fff" stroke="#1560e8" stroke-width="1.30" stroke-linejoin="miter"/>
<path d="M444.25 96.81L447.20 102.06L441.30 102.06Z" fill="#fff" stroke="#1560e8" stroke-width="1.30" stroke-linejoin="miter"/>
<path d="M455.67 100.41L458.62 105.66L452.72 105.66Z" fill="#fff" stroke="#1560e8" stroke-width="1.30" stroke-linejoin="miter"/>
<path d="M487.50 108.81L490.45 114.06L484.55 114.06Z" fill="#fff" stroke="#1560e8" stroke-width="1.30" stroke-linejoin="miter"/>
<path d="M530.75 114.41L533.70 119.66L527.80 119.66Z" fill="#fff" stroke="#1560e8" stroke-width="1.30" stroke-linejoin="miter"/>
<polyline points="406.04,31.20 416.76,73.80 422.30,81.20 443.75,95.20 455.17,97.60 487.00,105.80 530.25,110.20" fill="none" stroke="#2fbf78" stroke-width="1.12"/>
<path d="M406.04 34.39L408.99 29.13L403.09 29.13Z" fill="#fff" stroke="#18b064" stroke-width="1.30" stroke-linejoin="miter"/>
<path d="M416.76 76.99L419.71 71.73L413.81 71.73Z" fill="#fff" stroke="#18b064" stroke-width="1.30" stroke-linejoin="miter"/>
<path d="M422.30 84.39L425.25 79.14L419.35 79.14Z" fill="#fff" stroke="#18b064" stroke-width="1.30" stroke-linejoin="miter"/>
<path d="M443.75 98.39L446.70 93.14L440.80 93.14Z" fill="#fff" stroke="#18b064" stroke-width="1.30" stroke-linejoin="miter"/>
<path d="M455.17 100.79L458.12 95.53L452.22 95.53Z" fill="#fff" stroke="#18b064" stroke-width="1.30" stroke-linejoin="miter"/>
<path d="M487.00 108.99L489.95 103.73L484.05 103.73Z" fill="#fff" stroke="#18b064" stroke-width="1.30" stroke-linejoin="miter"/>
<path d="M530.25 113.39L533.20 108.14L527.30 108.14Z" fill="#fff" stroke="#18b064" stroke-width="1.30" stroke-linejoin="miter"/>
<polyline points="406.54,31.60 417.26,73.60 422.80,81.00 444.25,95.00 455.67,97.40 487.50,105.60 530.75,110.00" fill="none" stroke="#c98af0" stroke-width="1.12"/>
<path d="M406.54 28.47L409.67 31.60L406.54 34.73L403.40 31.60Z" fill="#fff" stroke="#b866e8" stroke-width="1.30" stroke-linejoin="miter"/>
<path d="M417.26 70.46L420.40 73.60L417.26 76.73L414.13 73.60Z" fill="#fff" stroke="#b866e8" stroke-width="1.30" stroke-linejoin="miter"/>
<path d="M422.80 77.86L425.93 81.00L422.80 84.14L419.66 81.00Z" fill="#fff" stroke="#b866e8" stroke-width="1.30" stroke-linejoin="miter"/>
<path d="M444.25 91.86L447.38 95.00L444.25 98.14L441.12 95.00Z" fill="#fff" stroke="#b866e8" stroke-width="1.30" stroke-linejoin="miter"/>
<path d="M455.67 94.27L458.80 97.40L455.67 100.54L452.53 97.40Z" fill="#fff" stroke="#b866e8" stroke-width="1.30" stroke-linejoin="miter"/>
<path d="M487.50 102.46L490.63 105.60L487.50 108.73L484.37 105.60Z" fill="#fff" stroke="#b866e8" stroke-width="1.30" stroke-linejoin="miter"/>
<path d="M530.75 106.86L533.88 110.00L530.75 113.14L527.62 110.00Z" fill="#fff" stroke="#b866e8" stroke-width="1.30" stroke-linejoin="miter"/>
<polyline points="406.54,18.40 417.26,57.00 422.80,63.00 444.25,74.60 455.67,79.00 487.50,89.00 530.75,97.40" fill="none" stroke="#e6a830" stroke-width="1.12"/>
<path d="M403.43 18.40L408.55 15.52L408.55 21.27Z" fill="#fff" stroke="#dc9612" stroke-width="1.30" stroke-linejoin="miter"/>
<path d="M414.16 57.00L419.27 54.12L419.27 59.88Z" fill="#fff" stroke="#dc9612" stroke-width="1.30" stroke-linejoin="miter"/>
<path d="M419.69 63.00L424.81 60.12L424.81 65.88Z" fill="#fff" stroke="#dc9612" stroke-width="1.30" stroke-linejoin="miter"/>
<path d="M441.14 74.60L446.26 71.72L446.26 77.47Z" fill="#fff" stroke="#dc9612" stroke-width="1.30" stroke-linejoin="miter"/>
<path d="M452.56 79.00L457.68 76.12L457.68 81.88Z" fill="#fff" stroke="#dc9612" stroke-width="1.30" stroke-linejoin="miter"/>
<path d="M484.39 89.00L489.51 86.12L489.51 91.88Z" fill="#fff" stroke="#dc9612" stroke-width="1.30" stroke-linejoin="miter"/>
<path d="M527.64 97.40L532.76 94.53L532.76 100.28Z" fill="#fff" stroke="#dc9612" stroke-width="1.30" stroke-linejoin="miter"/>
<polyline points="406.54,19.40 417.26,58.00 422.80,64.00 444.25,75.60 455.67,80.00 487.50,90.00 530.75,98.40" fill="none" stroke="#30d4dc" stroke-width="1.12"/>
<path d="M409.64 19.40L404.52 16.52L404.52 22.27Z" fill="#fff" stroke="#14c4d0" stroke-width="1.30" stroke-linejoin="miter"/>
<path d="M420.37 58.00L415.25 55.12L415.25 60.88Z" fill="#fff" stroke="#14c4d0" stroke-width="1.30" stroke-linejoin="miter"/>
<path d="M425.90 64.00L420.79 61.12L420.79 66.88Z" fill="#fff" stroke="#14c4d0" stroke-width="1.30" stroke-linejoin="miter"/>
<path d="M447.36 75.60L442.24 72.72L442.24 78.47Z" fill="#fff" stroke="#14c4d0" stroke-width="1.30" stroke-linejoin="miter"/>
<path d="M458.77 80.00L453.66 77.12L453.66 82.88Z" fill="#fff" stroke="#14c4d0" stroke-width="1.30" stroke-linejoin="miter"/>
<path d="M490.61 90.00L485.49 87.12L485.49 92.88Z" fill="#fff" stroke="#14c4d0" stroke-width="1.30" stroke-linejoin="miter"/>
<path d="M533.86 98.40L528.74 95.53L528.74 101.28Z" fill="#fff" stroke="#14c4d0" stroke-width="1.30" stroke-linejoin="miter"/>
<rect x="491.70" y="12.40" width="50.50" height="70.40" fill="#fff" stroke="#606060" stroke-width="0.95"/>
<path d="M493.00 18.20H505.40" stroke="#707070" stroke-width="1.1"/>
<rect x="497.01" y="16.21" width="3.97" height="3.97" fill="#fff" stroke="#3a3a3a" stroke-width="1.30" stroke-linejoin="miter"/>
<text transform="translate(508.60 19.80) rotate(0.04) scale(1 1.090)" font-size="7.80">0 m/s</text>
<path d="M493.00 28.20H505.40" stroke="#f25560" stroke-width="1.1"/>
<circle cx="499.00" cy="28.20" r="2.19" fill="#fff" stroke="#ee3344" stroke-width="1.30" stroke-linejoin="miter"/>
<text transform="translate(508.60 29.80) rotate(0.04) scale(1 1.090)" font-size="7.80">2 m/s-x</text>
<path d="M493.00 38.20H505.40" stroke="#3a7cf0" stroke-width="1.1"/>
<path d="M499.00 35.08L501.89 40.22L496.11 40.22Z" fill="#fff" stroke="#1560e8" stroke-width="1.30" stroke-linejoin="miter"/>
<text transform="translate(508.60 39.80) rotate(0.04) scale(1 1.090)" font-size="7.80">2 m/s-y</text>
<path d="M493.00 48.20H505.40" stroke="#2fbf78" stroke-width="1.1"/>
<path d="M499.00 51.32L501.89 46.18L496.11 46.18Z" fill="#fff" stroke="#18b064" stroke-width="1.30" stroke-linejoin="miter"/>
<text transform="translate(508.60 49.80) rotate(0.04) scale(1 1.090)" font-size="7.80">6 m/s-x</text>
<path d="M493.00 58.20H505.40" stroke="#c98af0" stroke-width="1.1"/>
<path d="M499.00 55.13L502.07 58.20L499.00 61.27L495.93 58.20Z" fill="#fff" stroke="#b866e8" stroke-width="1.30" stroke-linejoin="miter"/>
<text transform="translate(508.60 59.80) rotate(0.04) scale(1 1.090)" font-size="7.80">6 m/s-y</text>
<path d="M493.00 68.20H505.40" stroke="#e6a830" stroke-width="1.1"/>
<path d="M495.96 68.20L500.97 65.38L500.97 71.02Z" fill="#fff" stroke="#dc9612" stroke-width="1.30" stroke-linejoin="miter"/>
<text transform="translate(508.60 69.80) rotate(0.04) scale(1 1.090)" font-size="7.80">10 m/s-x</text>
<path d="M493.00 78.20H505.40" stroke="#30d4dc" stroke-width="1.1"/>
<path d="M502.04 78.20L497.03 75.38L497.03 81.02Z" fill="#fff" stroke="#14c4d0" stroke-width="1.30" stroke-linejoin="miter"/>
<text transform="translate(508.60 79.80) rotate(0.04) scale(1 1.090)" font-size="7.80">10 m/s-y</text>
</g>
<g>
<path d="M34.50 154.40H183.70V273.20" fill="none" stroke="#666" stroke-width="0.9"/>
<path d="M42.60 273.20v-2.6M59.10 273.20v-2.6M75.60 273.20v-2.6M92.10 273.20v-2.6M108.60 273.20v-2.6M125.10 273.20v-2.6M141.60 273.20v-2.6M158.10 273.20v-2.6M174.60 273.20v-2.6M34.50 168.40h2.6M34.50 182.40h2.6M34.50 196.40h2.6M34.50 210.40h2.6M34.50 224.40h2.6M34.50 238.40h2.6M34.50 252.40h2.6M34.50 266.40h2.6" stroke="#2a2a2a" stroke-width="0.9" fill="none"/>
<path d="M36.00 273.20v-1.4M39.30 273.20v-1.4M45.90 273.20v-1.4M49.20 273.20v-1.4M52.50 273.20v-1.4M55.80 273.20v-1.4M62.40 273.20v-1.4M65.70 273.20v-1.4M69.00 273.20v-1.4M72.30 273.20v-1.4M78.90 273.20v-1.4M82.20 273.20v-1.4M85.50 273.20v-1.4M88.80 273.20v-1.4M95.40 273.20v-1.4M98.70 273.20v-1.4M102.00 273.20v-1.4M105.30 273.20v-1.4M111.90 273.20v-1.4M115.20 273.20v-1.4M118.50 273.20v-1.4M121.80 273.20v-1.4M128.40 273.20v-1.4M131.70 273.20v-1.4M135.00 273.20v-1.4M138.30 273.20v-1.4M144.90 273.20v-1.4M148.20 273.20v-1.4M151.50 273.20v-1.4M154.80 273.20v-1.4M161.40 273.20v-1.4M164.70 273.20v-1.4M168.00 273.20v-1.4M171.30 273.20v-1.4M177.90 273.20v-1.4M181.20 273.20v-1.4M34.50 155.80h1.4M34.50 157.20h1.4M34.50 158.60h1.4M34.50 160.00h1.4M34.50 161.40h1.4M34.50 162.80h1.4M34.50 164.20h1.4M34.50 165.60h1.4M34.50 167.00h1.4M34.50 169.80h1.4M34.50 171.20h1.4M34.50 172.60h1.4M34.50 174.00h1.4M34.50 175.40h1.4M34.50 176.80h1.4M34.50 178.20h1.4M34.50 179.60h1.4M34.50 181.00h1.4M34.50 183.80h1.4M34.50 185.20h1.4M34.50 186.60h1.4M34.50 188.00h1.4M34.50 189.40h1.4M34.50 190.80h1.4M34.50 192.20h1.4M34.50 193.60h1.4M34.50 195.00h1.4M34.50 197.80h1.4M34.50 199.20h1.4M34.50 200.60h1.4M34.50 202.00h1.4M34.50 203.40h1.4M34.50 204.80h1.4M34.50 206.20h1.4M34.50 207.60h1.4M34.50 209.00h1.4M34.50 211.80h1.4M34.50 213.20h1.4M34.50 214.60h1.4M34.50 216.00h1.4M34.50 217.40h1.4M34.50 218.80h1.4M34.50 220.20h1.4M34.50 221.60h1.4M34.50 223.00h1.4M34.50 225.80h1.4M34.50 227.20h1.4M34.50 228.60h1.4M34.50 230.00h1.4M34.50 231.40h1.4M34.50 232.80h1.4M34.50 234.20h1.4M34.50 235.60h1.4M34.50 237.00h1.4M34.50 239.80h1.4M34.50 241.20h1.4M34.50 242.60h1.4M34.50 244.00h1.4M34.50 245.40h1.4M34.50 246.80h1.4M34.50 248.20h1.4M34.50 249.60h1.4M34.50 251.00h1.4M34.50 253.80h1.4M34.50 255.20h1.4M34.50 256.60h1.4M34.50 258.00h1.4M34.50 259.40h1.4M34.50 260.80h1.4M34.50 262.20h1.4M34.50 263.60h1.4M34.50 265.00h1.4M34.50 267.80h1.4M34.50 269.20h1.4M34.50 270.60h1.4M34.50 272.00h1.4" stroke="#333" stroke-width="0.75" fill="none"/>
<path d="M34.50 154.00V273.20H184.10" fill="none" stroke="#2a2a2a" stroke-width="1.15"/>
<text transform="translate(31.60 156.80) rotate(0.04) scale(1 1.030)" font-size="8.40" text-anchor="end">4.5</text>
<text transform="translate(31.60 170.80) rotate(0.04) scale(1 1.030)" font-size="8.40" text-anchor="end">4.0</text>
<text transform="translate(31.60 184.80) rotate(0.04) scale(1 1.030)" font-size="8.40" text-anchor="end">3.5</text>
<text transform="translate(31.60 198.80) rotate(0.04) scale(1 1.030)" font-size="8.40" text-anchor="end">3.0</text>
<text transform="translate(31.60 212.80) rotate(0.04) scale(1 1.030)" font-size="8.40" text-anchor="end">2.5</text>
<text transform="translate(31.60 226.80) rotate(0.04) scale(1 1.030)" font-size="8.40" text-anchor="end">2.0</text>
<text transform="translate(31.60 240.80) rotate(0.04) scale(1 1.030)" font-size="8.40" text-anchor="end">1.5</text>
<text transform="translate(31.60 254.80) rotate(0.04) scale(1 1.030)" font-size="8.40" text-anchor="end">1.0</text>
<text transform="translate(31.60 268.80) rotate(0.04) scale(1 1.030)" font-size="8.40" text-anchor="end">0.5</text>
<text transform="translate(42.40 281.70) rotate(0.04)" font-size="8.00" text-anchor="middle">0</text>
<text transform="translate(58.90 281.70) rotate(0.04)" font-size="8.00" text-anchor="middle">5</text>
<text transform="translate(75.40 281.70) rotate(0.04)" font-size="8.00" text-anchor="middle">10</text>
<text transform="translate(91.90 281.70) rotate(0.04)" font-size="8.00" text-anchor="middle">15</text>
<text transform="translate(108.40 281.70) rotate(0.04)" font-size="8.00" text-anchor="middle">20</text>
<text transform="translate(124.90 281.70) rotate(0.04)" font-size="8.00" text-anchor="middle">25</text>
<text transform="translate(141.40 281.70) rotate(0.04)" font-size="8.00" text-anchor="middle">30</text>
<text transform="translate(157.90 281.70) rotate(0.04)" font-size="8.00" text-anchor="middle">35</text>
<text transform="translate(174.40 281.70) rotate(0.04)" font-size="8.00" text-anchor="middle">40</text>
<text transform="translate(108.90 291.30) rotate(0.04)" font-size="9.02" text-anchor="middle">Radiation heat flux [kW/m<tspan font-size="5.6" dy="-3.2">2</tspan><tspan dy="3.2">]</tspan></text>
<text transform="translate(15.20 213.50) rotate(-90.04) scale(1 1.080)" font-size="8.70" text-anchor="middle"><tspan font-style="italic">L</tspan><tspan font-style="italic" font-size="6.4" dy="1.8">r</tspan><tspan dy="-1.8"> [m]</tspan></text>
<text transform="translate(97.80 168.80) rotate(0.04) scale(1 1.080)" font-size="9.00" text-anchor="middle">Unconfined</text>
<text transform="translate(97.80 179.20) rotate(0.04) scale(1 1.080)" font-size="9.00" text-anchor="middle"><tspan font-style="italic">d</tspan> = 3.3 mm</text>
<polyline points="48.51,174.00 58.10,220.00 63.42,229.00 84.00,245.60 94.96,252.60 125.50,257.00 167.00,263.40" fill="none" stroke="#707070" stroke-width="1.12"/>
<rect x="46.48" y="171.97" width="4.06" height="4.06" fill="#fff" stroke="#3a3a3a" stroke-width="1.30" stroke-linejoin="miter"/>
<rect x="56.08" y="217.97" width="4.06" height="4.06" fill="#fff" stroke="#3a3a3a" stroke-width="1.30" stroke-linejoin="miter"/>
<rect x="61.39" y="226.97" width="4.06" height="4.06" fill="#fff" stroke="#3a3a3a" stroke-width="1.30" stroke-linejoin="miter"/>
<rect x="81.97" y="243.57" width="4.06" height="4.06" fill="#fff" stroke="#3a3a3a" stroke-width="1.30" stroke-linejoin="miter"/>
<rect x="92.93" y="250.57" width="4.06" height="4.06" fill="#fff" stroke="#3a3a3a" stroke-width="1.30" stroke-linejoin="miter"/>
<rect x="123.47" y="254.97" width="4.06" height="4.06" fill="#fff" stroke="#3a3a3a" stroke-width="1.30" stroke-linejoin="miter"/>
<rect x="164.97" y="261.37" width="4.06" height="4.06" fill="#fff" stroke="#3a3a3a" stroke-width="1.30" stroke-linejoin="miter"/>
<polyline points="48.51,178.60 58.10,224.00 63.42,231.00 84.00,244.60 94.96,252.20 125.50,254.40 167.00,258.60" fill="none" stroke="#f25560" stroke-width="1.12"/>
<circle cx="48.51" cy="178.60" r="2.24" fill="#fff" stroke="#ee3344" stroke-width="1.30" stroke-linejoin="miter"/>
<circle cx="58.10" cy="224.00" r="2.24" fill="#fff" stroke="#ee3344" stroke-width="1.30" stroke-linejoin="miter"/>
<circle cx="63.42" cy="231.00" r="2.24" fill="#fff" stroke="#ee3344" stroke-width="1.30" stroke-linejoin="miter"/>
<circle cx="84.00" cy="244.60" r="2.24" fill="#fff" stroke="#ee3344" stroke-width="1.30" stroke-linejoin="miter"/>
<circle cx="94.96" cy="252.20" r="2.24" fill="#fff" stroke="#ee3344" stroke-width="1.30" stroke-linejoin="miter"/>
<circle cx="125.50" cy="254.40" r="2.24" fill="#fff" stroke="#ee3344" stroke-width="1.30" stroke-linejoin="miter"/>
<circle cx="167.00" cy="258.60" r="2.24" fill="#fff" stroke="#ee3344" stroke-width="1.30" stroke-linejoin="miter"/>
<polyline points="48.51,171.40 58.10,211.00 63.42,216.40 84.00,231.60 94.96,244.00 125.50,240.40 167.00,247.00" fill="none" stroke="#3a7cf0" stroke-width="1.12"/>
<path d="M48.51 168.21L51.46 173.47L45.56 173.47Z" fill="#fff" stroke="#1560e8" stroke-width="1.30" stroke-linejoin="miter"/>
<path d="M58.10 207.81L61.05 213.06L55.15 213.06Z" fill="#fff" stroke="#1560e8" stroke-width="1.30" stroke-linejoin="miter"/>
<path d="M63.42 213.21L66.37 218.47L60.47 218.47Z" fill="#fff" stroke="#1560e8" stroke-width="1.30" stroke-linejoin="miter"/>
<path d="M84.00 228.41L86.95 233.66L81.05 233.66Z" fill="#fff" stroke="#1560e8" stroke-width="1.30" stroke-linejoin="miter"/>
<path d="M94.96 240.81L97.91 246.06L92.01 246.06Z" fill="#fff" stroke="#1560e8" stroke-width="1.30" stroke-linejoin="miter"/>
<path d="M125.50 237.21L128.45 242.47L122.55 242.47Z" fill="#fff" stroke="#1560e8" stroke-width="1.30" stroke-linejoin="miter"/>
<path d="M167.00 243.81L169.95 249.06L164.05 249.06Z" fill="#fff" stroke="#1560e8" stroke-width="1.30" stroke-linejoin="miter"/>
<polyline points="48.51,165.00 58.10,201.00 63.42,210.00 84.00,227.00 94.96,238.80 125.50,240.00 167.00,246.00" fill="none" stroke="#2fbf78" stroke-width="1.12"/>
<path d="M48.51 168.19L51.46 162.94L45.56 162.94Z" fill="#fff" stroke="#18b064" stroke-width="1.30" stroke-linejoin="miter"/>
<path d="M58.10 204.19L61.05 198.94L55.15 198.94Z" fill="#fff" stroke="#18b064" stroke-width="1.30" stroke-linejoin="miter"/>
<path d="M63.42 213.19L66.37 207.94L60.47 207.94Z" fill="#fff" stroke="#18b064" stroke-width="1.30" stroke-linejoin="miter"/>
<path d="M84.00 230.19L86.95 224.94L81.05 224.94Z" fill="#fff" stroke="#18b064" stroke-width="1.30" stroke-linejoin="miter"/>
<path d="M94.96 241.99L97.91 236.74L92.01 236.74Z" fill="#fff" stroke="#18b064" stroke-width="1.30" stroke-linejoin="miter"/>
<path d="M125.50 243.19L128.45 237.94L122.55 237.94Z" fill="#fff" stroke="#18b064" stroke-width="1.30" stroke-linejoin="miter"/>
<path d="M167.00 249.19L169.95 243.94L164.05 243.94Z" fill="#fff" stroke="#18b064" stroke-width="1.30" stroke-linejoin="miter"/>
<rect x="135.20" y="161.70" width="41.90" height="41.00" fill="#fff" stroke="#606060" stroke-width="0.95"/>
<path d="M136.40 168.30H149.20" stroke="#707070" stroke-width="1.1"/>
<rect x="141.01" y="166.31" width="3.97" height="3.97" fill="#fff" stroke="#3a3a3a" stroke-width="1.30" stroke-linejoin="miter"/>
<text transform="translate(151.50 169.90) rotate(0.04) scale(1 1.090)" font-size="7.80">0 m/s</text>
<path d="M136.40 178.25H149.20" stroke="#f25560" stroke-width="1.1"/>
<circle cx="143.00" cy="178.25" r="2.19" fill="#fff" stroke="#ee3344" stroke-width="1.30" stroke-linejoin="miter"/>
<text transform="translate(151.50 179.85) rotate(0.04) scale(1 1.090)" font-size="7.80">2 m/s</text>
<path d="M136.40 188.20H149.20" stroke="#3a7cf0" stroke-width="1.1"/>
<path d="M143.00 185.08L145.89 190.22L140.11 190.22Z" fill="#fff" stroke="#1560e8" stroke-width="1.30" stroke-linejoin="miter"/>
<text transform="translate(151.50 189.80) rotate(0.04) scale(1 1.090)" font-size="7.80">6 m/s</text>
<path d="M136.40 198.15H149.20" stroke="#2fbf78" stroke-width="1.1"/>
<path d="M143.00 201.27L145.89 196.13L140.11 196.13Z" fill="#fff" stroke="#18b064" stroke-width="1.30" stroke-linejoin="miter"/>
<text transform="translate(151.50 199.75) rotate(0.04) scale(1 1.090)" font-size="7.80">10 m/s</text>
</g>
<g>
<path d="M214.60 154.50H363.20V273.20" fill="none" stroke="#666" stroke-width="0.9"/>
<path d="M221.50 273.20v-2.6M238.77 273.20v-2.6M256.04 273.20v-2.6M273.31 273.20v-2.6M290.58 273.20v-2.6M307.85 273.20v-2.6M325.12 273.20v-2.6M342.39 273.20v-2.6M359.66 273.20v-2.6M214.60 169.80h2.6M214.60 188.95h2.6M214.60 208.10h2.6M214.60 227.25h2.6M214.60 246.40h2.6M214.60 265.55h2.6" stroke="#2a2a2a" stroke-width="0.9" fill="none"/>
<path d="M218.05 273.20v-1.4M224.95 273.20v-1.4M228.41 273.20v-1.4M231.86 273.20v-1.4M235.32 273.20v-1.4M242.22 273.20v-1.4M245.68 273.20v-1.4M249.13 273.20v-1.4M252.59 273.20v-1.4M259.49 273.20v-1.4M262.95 273.20v-1.4M266.40 273.20v-1.4M269.86 273.20v-1.4M276.76 273.20v-1.4M280.22 273.20v-1.4M283.67 273.20v-1.4M287.13 273.20v-1.4M294.03 273.20v-1.4M297.49 273.20v-1.4M300.94 273.20v-1.4M304.40 273.20v-1.4M311.30 273.20v-1.4M314.76 273.20v-1.4M318.21 273.20v-1.4M321.67 273.20v-1.4M328.57 273.20v-1.4M332.03 273.20v-1.4M335.48 273.20v-1.4M338.94 273.20v-1.4M345.84 273.20v-1.4M349.30 273.20v-1.4M352.75 273.20v-1.4M356.21 273.20v-1.4M214.60 156.40h1.4M214.60 158.31h1.4M214.60 160.23h1.4M214.60 162.14h1.4M214.60 164.06h1.4M214.60 165.97h1.4M214.60 167.89h1.4M214.60 171.72h1.4M214.60 173.63h1.4M214.60 175.55h1.4M214.60 177.46h1.4M214.60 179.38h1.4M214.60 181.29h1.4M214.60 183.21h1.4M214.60 185.12h1.4M214.60 187.04h1.4M214.60 190.87h1.4M214.60 192.78h1.4M214.60 194.70h1.4M214.60 196.61h1.4M214.60 198.53h1.4M214.60 200.44h1.4M214.60 202.36h1.4M214.60 204.27h1.4M214.60 206.19h1.4M214.60 210.02h1.4M214.60 211.93h1.4M214.60 213.85h1.4M214.60 215.76h1.4M214.60 217.68h1.4M214.60 219.59h1.4M214.60 221.51h1.4M214.60 223.42h1.4M214.60 225.34h1.4M214.60 229.17h1.4M214.60 231.08h1.4M214.60 233.00h1.4M214.60 234.91h1.4M214.60 236.83h1.4M214.60 238.74h1.4M214.60 240.66h1.4M214.60 242.57h1.4M214.60 244.49h1.4M214.60 248.32h1.4M214.60 250.23h1.4M214.60 252.15h1.4M214.60 254.06h1.4M214.60 255.98h1.4M214.60 257.89h1.4M214.60 259.81h1.4M214.60 261.72h1.4M214.60 263.64h1.4M214.60 267.47h1.4M214.60 269.38h1.4M214.60 271.30h1.4" stroke="#333" stroke-width="0.75" fill="none"/>
<path d="M214.60 154.10V273.20H363.60" fill="none" stroke="#2a2a2a" stroke-width="1.15"/>
<text transform="translate(211.40 172.20) rotate(0.04) scale(1 1.081)" font-size="8.00" text-anchor="end">12</text>
<text transform="translate(211.40 191.35) rotate(0.04) scale(1 1.081)" font-size="8.00" text-anchor="end">10</text>
<text transform="translate(211.40 210.50) rotate(0.04) scale(1 1.081)" font-size="8.00" text-anchor="end">8</text>
<text transform="translate(211.40 229.65) rotate(0.04) scale(1 1.081)" font-size="8.00" text-anchor="end">6</text>
<text transform="translate(211.40 248.80) rotate(0.04) scale(1 1.081)" font-size="8.00" text-anchor="end">4</text>
<text transform="translate(211.40 267.95) rotate(0.04) scale(1 1.081)" font-size="8.00" text-anchor="end">2</text>
<text transform="translate(221.30 281.70) rotate(0.04)" font-size="8.00" text-anchor="middle">0</text>
<text transform="translate(238.57 281.70) rotate(0.04)" font-size="8.00" text-anchor="middle">5</text>
<text transform="translate(255.84 281.70) rotate(0.04)" font-size="8.00" text-anchor="middle">10</text>
<text transform="translate(273.11 281.70) rotate(0.04)" font-size="8.00" text-anchor="middle">15</text>
<text transform="translate(290.38 281.70) rotate(0.04)" font-size="8.00" text-anchor="middle">20</text>
<text transform="translate(307.65 281.70) rotate(0.04)" font-size="8.00" text-anchor="middle">25</text>
<text transform="translate(324.92 281.70) rotate(0.04)" font-size="8.00" text-anchor="middle">30</text>
<text transform="translate(342.19 281.70) rotate(0.04)" font-size="8.00" text-anchor="middle">35</text>
<text transform="translate(359.46 281.70) rotate(0.04)" font-size="8.00" text-anchor="middle">40</text>
<text transform="translate(288.70 291.30) rotate(0.04)" font-size="9.02" text-anchor="middle">Radiation heat flux [kW/m<tspan font-size="5.6" dy="-3.2">2</tspan><tspan dy="3.2">]</tspan></text>
<text transform="translate(197.50 213.55) rotate(-90.04) scale(1 1.080)" font-size="8.70" text-anchor="middle"><tspan font-style="italic">L</tspan><tspan font-style="italic" font-size="6.4" dy="1.8">r</tspan><tspan dy="-1.8"> [m]</tspan></text>
<text transform="translate(275.50 167.20) rotate(0.04) scale(1 1.080)" font-size="9.00" text-anchor="middle">Unconfined</text>
<text transform="translate(275.50 178.20) rotate(0.04) scale(1 1.080)" font-size="9.00" text-anchor="middle"><tspan font-style="italic">d</tspan> = 10.3 mm</text>
<polyline points="227.03,168.60 237.73,224.00 243.26,228.00 264.68,245.00 276.07,253.00 307.85,259.00 351.02,264.40" fill="none" stroke="#707070" stroke-width="1.12"/>
<rect x="225.00" y="166.57" width="4.06" height="4.06" fill="#fff" stroke="#3a3a3a" stroke-width="1.30" stroke-linejoin="miter"/>
<rect x="235.71" y="221.97" width="4.06" height="4.06" fill="#fff" stroke="#3a3a3a" stroke-width="1.30" stroke-linejoin="miter"/>
<rect x="241.23" y="225.97" width="4.06" height="4.06" fill="#fff" stroke="#3a3a3a" stroke-width="1.30" stroke-linejoin="miter"/>
<rect x="262.65" y="242.97" width="4.06" height="4.06" fill="#fff" stroke="#3a3a3a" stroke-width="1.30" stroke-linejoin="miter"/>
<rect x="274.05" y="250.97" width="4.06" height="4.06" fill="#fff" stroke="#3a3a3a" stroke-width="1.30" stroke-linejoin="miter"/>
<rect x="305.82" y="256.97" width="4.06" height="4.06" fill="#fff" stroke="#3a3a3a" stroke-width="1.30" stroke-linejoin="miter"/>
<rect x="349.00" y="262.37" width="4.06" height="4.06" fill="#fff" stroke="#3a3a3a" stroke-width="1.30" stroke-linejoin="miter"/>
<polyline points="227.03,174.00 237.73,220.00 243.26,227.60 264.68,244.60 276.07,250.00 307.85,257.00 351.02,261.60" fill="none" stroke="#f25560" stroke-width="1.12"/>
<circle cx="227.03" cy="174.00" r="2.24" fill="#fff" stroke="#ee3344" stroke-width="1.30" stroke-linejoin="miter"/>
<circle cx="237.73" cy="220.00" r="2.24" fill="#fff" stroke="#ee3344" stroke-width="1.30" stroke-linejoin="miter"/>
<circle cx="243.26" cy="227.60" r="2.24" fill="#fff" stroke="#ee3344" stroke-width="1.30" stroke-linejoin="miter"/>
<circle cx="264.68" cy="244.60" r="2.24" fill="#fff" stroke="#ee3344" stroke-width="1.30" stroke-linejoin="miter"/>
<circle cx="276.07" cy="250.00" r="2.24" fill="#fff" stroke="#ee3344" stroke-width="1.30" stroke-linejoin="miter"/>
<circle cx="307.85" cy="257.00" r="2.24" fill="#fff" stroke="#ee3344" stroke-width="1.30" stroke-linejoin="miter"/>
<circle cx="351.02" cy="261.60" r="2.24" fill="#fff" stroke="#ee3344" stroke-width="1.30" stroke-linejoin="miter"/>
<polyline points="227.03,170.00 237.73,214.60 243.26,225.40 264.68,232.00 276.07,242.00 307.85,248.60 351.02,254.60" fill="none" stroke="#3a7cf0" stroke-width="1.12"/>
<path d="M227.03 166.81L229.98 172.06L224.08 172.06Z" fill="#fff" stroke="#1560e8" stroke-width="1.30" stroke-linejoin="miter"/>
<path d="M237.73 211.41L240.68 216.66L234.78 216.66Z" fill="#fff" stroke="#1560e8" stroke-width="1.30" stroke-linejoin="miter"/>
<path d="M243.26 222.21L246.21 227.47L240.31 227.47Z" fill="#fff" stroke="#1560e8" stroke-width="1.30" stroke-linejoin="miter"/>
<path d="M264.68 228.81L267.62 234.06L261.73 234.06Z" fill="#fff" stroke="#1560e8" stroke-width="1.30" stroke-linejoin="miter"/>
<path d="M276.07 238.81L279.02 244.06L273.12 244.06Z" fill="#fff" stroke="#1560e8" stroke-width="1.30" stroke-linejoin="miter"/>
<path d="M307.85 245.41L310.80 250.66L304.90 250.66Z" fill="#fff" stroke="#1560e8" stroke-width="1.30" stroke-linejoin="miter"/>
<path d="M351.02 251.41L353.97 256.67L348.07 256.67Z" fill="#fff" stroke="#1560e8" stroke-width="1.30" stroke-linejoin="miter"/>
<polyline points="227.03,163.40 237.73,202.60 243.26,220.00 264.68,225.00 276.07,233.00 307.85,248.00 351.02,250.60" fill="none" stroke="#2fbf78" stroke-width="1.12"/>
<path d="M227.03 166.59L229.98 161.34L224.08 161.34Z" fill="#fff" stroke="#18b064" stroke-width="1.30" stroke-linejoin="miter"/>
<path d="M237.73 205.79L240.68 200.53L234.78 200.53Z" fill="#fff" stroke="#18b064" stroke-width="1.30" stroke-linejoin="miter"/>
<path d="M243.26 223.19L246.21 217.94L240.31 217.94Z" fill="#fff" stroke="#18b064" stroke-width="1.30" stroke-linejoin="miter"/>
<path d="M264.68 228.19L267.62 222.94L261.73 222.94Z" fill="#fff" stroke="#18b064" stroke-width="1.30" stroke-linejoin="miter"/>
<path d="M276.07 236.19L279.02 230.94L273.12 230.94Z" fill="#fff" stroke="#18b064" stroke-width="1.30" stroke-linejoin="miter"/>
<path d="M307.85 251.19L310.80 245.94L304.90 245.94Z" fill="#fff" stroke="#18b064" stroke-width="1.30" stroke-linejoin="miter"/>
<path d="M351.02 253.79L353.97 248.53L348.07 248.53Z" fill="#fff" stroke="#18b064" stroke-width="1.30" stroke-linejoin="miter"/>
<rect x="314.70" y="161.70" width="42.50" height="40.80" fill="#fff" stroke="#606060" stroke-width="0.95"/>
<path d="M315.60 168.30H329.00" stroke="#707070" stroke-width="1.1"/>
<rect x="320.81" y="166.31" width="3.97" height="3.97" fill="#fff" stroke="#3a3a3a" stroke-width="1.30" stroke-linejoin="miter"/>
<text transform="translate(331.20 169.90) rotate(0.04) scale(1 1.090)" font-size="7.80">0 m/s</text>
<path d="M315.60 178.25H329.00" stroke="#f25560" stroke-width="1.1"/>
<circle cx="322.80" cy="178.25" r="2.19" fill="#fff" stroke="#ee3344" stroke-width="1.30" stroke-linejoin="miter"/>
<text transform="translate(331.20 179.85) rotate(0.04) scale(1 1.090)" font-size="7.80">2 m/s</text>
<path d="M315.60 188.20H329.00" stroke="#3a7cf0" stroke-width="1.1"/>
<path d="M322.80 185.08L325.69 190.22L319.91 190.22Z" fill="#fff" stroke="#1560e8" stroke-width="1.30" stroke-linejoin="miter"/>
<text transform="translate(331.20 189.80) rotate(0.04) scale(1 1.090)" font-size="7.80">6 m/s</text>
<path d="M315.60 198.15H329.00" stroke="#2fbf78" stroke-width="1.1"/>
<path d="M322.80 201.27L325.69 196.13L319.91 196.13Z" fill="#fff" stroke="#18b064" stroke-width="1.30" stroke-linejoin="miter"/>
<text transform="translate(331.20 199.75) rotate(0.04) scale(1 1.090)" font-size="7.80">10 m/s</text>
</g>
<g>
<path d="M394.30 154.40H543.40V273.30" fill="none" stroke="#666" stroke-width="0.9"/>
<path d="M401.00 273.30v-2.6M418.30 273.30v-2.6M435.60 273.30v-2.6M452.90 273.30v-2.6M470.20 273.30v-2.6M487.50 273.30v-2.6M504.80 273.30v-2.6M522.10 273.30v-2.6M539.40 273.30v-2.6M394.30 170.90h2.6M394.30 187.40h2.6M394.30 203.90h2.6M394.30 220.40h2.6M394.30 236.90h2.6M394.30 253.40h2.6M394.30 269.90h2.6" stroke="#2a2a2a" stroke-width="0.9" fill="none"/>
<path d="M397.54 273.30v-1.4M404.46 273.30v-1.4M407.92 273.30v-1.4M411.38 273.30v-1.4M414.84 273.30v-1.4M421.76 273.30v-1.4M425.22 273.30v-1.4M428.68 273.30v-1.4M432.14 273.30v-1.4M439.06 273.30v-1.4M442.52 273.30v-1.4M445.98 273.30v-1.4M449.44 273.30v-1.4M456.36 273.30v-1.4M459.82 273.30v-1.4M463.28 273.30v-1.4M466.74 273.30v-1.4M473.66 273.30v-1.4M477.12 273.30v-1.4M480.58 273.30v-1.4M484.04 273.30v-1.4M490.96 273.30v-1.4M494.42 273.30v-1.4M497.88 273.30v-1.4M501.34 273.30v-1.4M508.26 273.30v-1.4M511.72 273.30v-1.4M515.18 273.30v-1.4M518.64 273.30v-1.4M525.56 273.30v-1.4M529.02 273.30v-1.4M532.48 273.30v-1.4M535.94 273.30v-1.4M542.86 273.30v-1.4M394.30 157.70h1.4M394.30 161.00h1.4M394.30 164.30h1.4M394.30 167.60h1.4M394.30 174.20h1.4M394.30 177.50h1.4M394.30 180.80h1.4M394.30 184.10h1.4M394.30 190.70h1.4M394.30 194.00h1.4M394.30 197.30h1.4M394.30 200.60h1.4M394.30 207.20h1.4M394.30 210.50h1.4M394.30 213.80h1.4M394.30 217.10h1.4M394.30 223.70h1.4M394.30 227.00h1.4M394.30 230.30h1.4M394.30 233.60h1.4M394.30 240.20h1.4M394.30 243.50h1.4M394.30 246.80h1.4M394.30 250.10h1.4M394.30 256.70h1.4M394.30 260.00h1.4M394.30 263.30h1.4M394.30 266.60h1.4" stroke="#333" stroke-width="0.75" fill="none"/>
<path d="M394.30 154.00V273.30H543.80" fill="none" stroke="#2a2a2a" stroke-width="1.15"/>
<text transform="translate(391.00 156.80) rotate(0.04) scale(1 1.081)" font-size="8.00" text-anchor="end">40</text>
<text transform="translate(391.00 173.30) rotate(0.04) scale(1 1.081)" font-size="8.00" text-anchor="end">35</text>
<text transform="translate(391.00 189.80) rotate(0.04) scale(1 1.081)" font-size="8.00" text-anchor="end">30</text>
<text transform="translate(391.00 206.30) rotate(0.04) scale(1 1.081)" font-size="8.00" text-anchor="end">25</text>
<text transform="translate(391.00 222.80) rotate(0.04) scale(1 1.081)" font-size="8.00" text-anchor="end">20</text>
<text transform="translate(391.00 239.30) rotate(0.04) scale(1 1.081)" font-size="8.00" text-anchor="end">15</text>
<text transform="translate(391.00 255.80) rotate(0.04) scale(1 1.081)" font-size="8.00" text-anchor="end">10</text>
<text transform="translate(391.00 272.30) rotate(0.04) scale(1 1.081)" font-size="8.00" text-anchor="end">5</text>
<text transform="translate(400.80 281.80) rotate(0.04)" font-size="8.00" text-anchor="middle">0</text>
<text transform="translate(418.10 281.80) rotate(0.04)" font-size="8.00" text-anchor="middle">5</text>
<text transform="translate(435.40 281.80) rotate(0.04)" font-size="8.00" text-anchor="middle">10</text>
<text transform="translate(452.70 281.80) rotate(0.04)" font-size="8.00" text-anchor="middle">15</text>
<text transform="translate(470.00 281.80) rotate(0.04)" font-size="8.00" text-anchor="middle">20</text>
<text transform="translate(487.30 281.80) rotate(0.04)" font-size="8.00" text-anchor="middle">25</text>
<text transform="translate(504.60 281.80) rotate(0.04)" font-size="8.00" text-anchor="middle">30</text>
<text transform="translate(521.90 281.80) rotate(0.04)" font-size="8.00" text-anchor="middle">35</text>
<text transform="translate(539.20 281.80) rotate(0.04)" font-size="8.00" text-anchor="middle">40</text>
<text transform="translate(468.65 291.40) rotate(0.04)" font-size="9.02" text-anchor="middle">Radiation heat flux [kW/m<tspan font-size="5.6" dy="-3.2">2</tspan><tspan dy="3.2">]</tspan></text>
<text transform="translate(378.00 213.55) rotate(-90.04) scale(1 1.080)" font-size="8.70" text-anchor="middle"><tspan font-style="italic">L</tspan><tspan font-style="italic" font-size="6.4" dy="1.8">r</tspan><tspan dy="-1.8"> [m]</tspan></text>
<text transform="translate(459.50 169.20) rotate(0.04) scale(1 1.080)" font-size="9.00" text-anchor="middle">Unconfined</text>
<text transform="translate(459.50 180.20) rotate(0.04) scale(1 1.080)" font-size="9.00" text-anchor="middle"><tspan font-style="italic">d</tspan> = 32.5 mm</text>
<polyline points="406.54,183.40 417.26,234.60 422.80,242.00 444.25,249.00 455.67,264.40 487.50,265.40 530.75,266.00" fill="none" stroke="#707070" stroke-width="1.12"/>
<rect x="404.51" y="181.37" width="4.06" height="4.06" fill="#fff" stroke="#3a3a3a" stroke-width="1.30" stroke-linejoin="miter"/>
<rect x="415.23" y="232.57" width="4.06" height="4.06" fill="#fff" stroke="#3a3a3a" stroke-width="1.30" stroke-linejoin="miter"/>
<rect x="420.77" y="239.97" width="4.06" height="4.06" fill="#fff" stroke="#3a3a3a" stroke-width="1.30" stroke-linejoin="miter"/>
<rect x="442.22" y="246.97" width="4.06" height="4.06" fill="#fff" stroke="#3a3a3a" stroke-width="1.30" stroke-linejoin="miter"/>
<rect x="453.64" y="262.37" width="4.06" height="4.06" fill="#fff" stroke="#3a3a3a" stroke-width="1.30" stroke-linejoin="miter"/>
<rect x="485.47" y="263.37" width="4.06" height="4.06" fill="#fff" stroke="#3a3a3a" stroke-width="1.30" stroke-linejoin="miter"/>
<rect x="528.72" y="263.97" width="4.06" height="4.06" fill="#fff" stroke="#3a3a3a" stroke-width="1.30" stroke-linejoin="miter"/>
<polyline points="406.54,176.00 417.26,222.00 422.80,230.60 444.25,246.60 455.67,254.00 487.50,259.00 530.75,264.60" fill="none" stroke="#f25560" stroke-width="1.12"/>
<circle cx="406.54" cy="176.00" r="2.24" fill="#fff" stroke="#ee3344" stroke-width="1.30" stroke-linejoin="miter"/>
<circle cx="417.26" cy="222.00" r="2.24" fill="#fff" stroke="#ee3344" stroke-width="1.30" stroke-linejoin="miter"/>
<circle cx="422.80" cy="230.60" r="2.24" fill="#fff" stroke="#ee3344" stroke-width="1.30" stroke-linejoin="miter"/>
<circle cx="444.25" cy="246.60" r="2.24" fill="#fff" stroke="#ee3344" stroke-width="1.30" stroke-linejoin="miter"/>
<circle cx="455.67" cy="254.00" r="2.24" fill="#fff" stroke="#ee3344" stroke-width="1.30" stroke-linejoin="miter"/>
<circle cx="487.50" cy="259.00" r="2.24" fill="#fff" stroke="#ee3344" stroke-width="1.30" stroke-linejoin="miter"/>
<circle cx="530.75" cy="264.60" r="2.24" fill="#fff" stroke="#ee3344" stroke-width="1.30" stroke-linejoin="miter"/>
<polyline points="406.54,174.40 417.26,217.40 422.80,224.40 444.25,239.00 455.67,246.00 487.50,250.40 530.75,256.00" fill="none" stroke="#3a7cf0" stroke-width="1.12"/>
<path d="M406.54 171.21L409.49 176.47L403.59 176.47Z" fill="#fff" stroke="#1560e8" stroke-width="1.30" stroke-linejoin="miter"/>
<path d="M417.26 214.21L420.21 219.47L414.31 219.47Z" fill="#fff" stroke="#1560e8" stroke-width="1.30" stroke-linejoin="miter"/>
<path d="M422.80 221.21L425.75 226.47L419.85 226.47Z" fill="#fff" stroke="#1560e8" stroke-width="1.30" stroke-linejoin="miter"/>
<path d="M444.25 235.81L447.20 241.06L441.30 241.06Z" fill="#fff" stroke="#1560e8" stroke-width="1.30" stroke-linejoin="miter"/>
<path d="M455.67 242.81L458.62 248.06L452.72 248.06Z" fill="#fff" stroke="#1560e8" stroke-width="1.30" stroke-linejoin="miter"/>
<path d="M487.50 247.21L490.45 252.47L484.55 252.47Z" fill="#fff" stroke="#1560e8" stroke-width="1.30" stroke-linejoin="miter"/>
<path d="M530.75 252.81L533.70 258.06L527.80 258.06Z" fill="#fff" stroke="#1560e8" stroke-width="1.30" stroke-linejoin="miter"/>
<polyline points="406.54,164.60 417.26,204.00 422.80,210.40 444.25,221.60 455.67,228.60 487.50,237.40 530.75,245.00" fill="none" stroke="#2fbf78" stroke-width="1.12"/>
<path d="M406.54 167.79L409.49 162.53L403.59 162.53Z" fill="#fff" stroke="#18b064" stroke-width="1.30" stroke-linejoin="miter"/>
<path d="M417.26 207.19L420.21 201.94L414.31 201.94Z" fill="#fff" stroke="#18b064" stroke-width="1.30" stroke-linejoin="miter"/>
<path d="M422.80 213.59L425.75 208.34L419.85 208.34Z" fill="#fff" stroke="#18b064" stroke-width="1.30" stroke-linejoin="miter"/>
<path d="M444.25 224.79L447.20 219.53L441.30 219.53Z" fill="#fff" stroke="#18b064" stroke-width="1.30" stroke-linejoin="miter"/>
<path d="M455.67 231.79L458.62 226.53L452.72 226.53Z" fill="#fff" stroke="#18b064" stroke-width="1.30" stroke-linejoin="miter"/>
<path d="M487.50 240.59L490.45 235.34L484.55 235.34Z" fill="#fff" stroke="#18b064" stroke-width="1.30" stroke-linejoin="miter"/>
<path d="M530.75 248.19L533.70 242.94L527.80 242.94Z" fill="#fff" stroke="#18b064" stroke-width="1.30" stroke-linejoin="miter"/>
<rect x="494.70" y="161.70" width="42.50" height="40.90" fill="#fff" stroke="#606060" stroke-width="0.95"/>
<path d="M495.70 168.30H508.80" stroke="#707070" stroke-width="1.1"/>
<rect x="500.31" y="166.31" width="3.97" height="3.97" fill="#fff" stroke="#3a3a3a" stroke-width="1.30" stroke-linejoin="miter"/>
<text transform="translate(511.00 169.90) rotate(0.04) scale(1 1.090)" font-size="7.80">0 m/s</text>
<path d="M495.70 178.25H508.80" stroke="#f25560" stroke-width="1.1"/>
<circle cx="502.30" cy="178.25" r="2.19" fill="#fff" stroke="#ee3344" stroke-width="1.30" stroke-linejoin="miter"/>
<text transform="translate(511.00 179.85) rotate(0.04) scale(1 1.090)" font-size="7.80">2 m/s</text>
<path d="M495.70 188.20H508.80" stroke="#3a7cf0" stroke-width="1.1"/>
<path d="M502.30 185.08L505.19 190.22L499.41 190.22Z" fill="#fff" stroke="#1560e8" stroke-width="1.30" stroke-linejoin="miter"/>
<text transform="translate(511.00 189.80) rotate(0.04) scale(1 1.090)" font-size="7.80">6 m/s</text>
<path d="M495.70 198.15H508.80" stroke="#2fbf78" stroke-width="1.1"/>
<path d="M502.30 201.27L505.19 196.13L499.41 196.13Z" fill="#fff" stroke="#18b064" stroke-width="1.30" stroke-linejoin="miter"/>
<text transform="translate(511.00 199.75) rotate(0.04) scale(1 1.090)" font-size="7.80">10 m/s</text>
</g>
<g>
<path d="M34.40 299.70H183.70V418.20" fill="none" stroke="#666" stroke-width="0.9"/>
<path d="M41.70 418.20v-2.6M58.92 418.20v-2.6M76.13 418.20v-2.6M93.34 418.20v-2.6M110.56 418.20v-2.6M127.78 418.20v-2.6M144.99 418.20v-2.6M162.20 418.20v-2.6M179.42 418.20v-2.6M34.40 300.70h2.6M34.40 313.44h2.6M34.40 326.18h2.6M34.40 338.92h2.6M34.40 351.66h2.6M34.40 364.40h2.6M34.40 377.14h2.6M34.40 389.88h2.6M34.40 402.62h2.6M34.40 415.36h2.6" stroke="#2a2a2a" stroke-width="0.9" fill="none"/>
<path d="M38.26 418.20v-1.4M45.14 418.20v-1.4M48.59 418.20v-1.4M52.03 418.20v-1.4M55.47 418.20v-1.4M62.36 418.20v-1.4M65.80 418.20v-1.4M69.24 418.20v-1.4M72.69 418.20v-1.4M79.57 418.20v-1.4M83.02 418.20v-1.4M86.46 418.20v-1.4M89.90 418.20v-1.4M96.79 418.20v-1.4M100.23 418.20v-1.4M103.67 418.20v-1.4M107.12 418.20v-1.4M114.00 418.20v-1.4M117.45 418.20v-1.4M120.89 418.20v-1.4M124.33 418.20v-1.4M131.22 418.20v-1.4M134.66 418.20v-1.4M138.10 418.20v-1.4M141.55 418.20v-1.4M148.43 418.20v-1.4M151.88 418.20v-1.4M155.32 418.20v-1.4M158.76 418.20v-1.4M165.65 418.20v-1.4M169.09 418.20v-1.4M172.53 418.20v-1.4M175.98 418.20v-1.4M182.86 418.20v-1.4M34.40 301.97h1.4M34.40 303.25h1.4M34.40 304.52h1.4M34.40 305.80h1.4M34.40 307.07h1.4M34.40 308.34h1.4M34.40 309.62h1.4M34.40 310.89h1.4M34.40 312.17h1.4M34.40 314.71h1.4M34.40 315.99h1.4M34.40 317.26h1.4M34.40 318.54h1.4M34.40 319.81h1.4M34.40 321.08h1.4M34.40 322.36h1.4M34.40 323.63h1.4M34.40 324.91h1.4M34.40 327.45h1.4M34.40 328.73h1.4M34.40 330.00h1.4M34.40 331.28h1.4M34.40 332.55h1.4M34.40 333.82h1.4M34.40 335.10h1.4M34.40 336.37h1.4M34.40 337.65h1.4M34.40 340.19h1.4M34.40 341.47h1.4M34.40 342.74h1.4M34.40 344.02h1.4M34.40 345.29h1.4M34.40 346.56h1.4M34.40 347.84h1.4M34.40 349.11h1.4M34.40 350.39h1.4M34.40 352.93h1.4M34.40 354.21h1.4M34.40 355.48h1.4M34.40 356.76h1.4M34.40 358.03h1.4M34.40 359.30h1.4M34.40 360.58h1.4M34.40 361.85h1.4M34.40 363.13h1.4M34.40 365.67h1.4M34.40 366.95h1.4M34.40 368.22h1.4M34.40 369.50h1.4M34.40 370.77h1.4M34.40 372.04h1.4M34.40 373.32h1.4M34.40 374.59h1.4M34.40 375.87h1.4M34.40 378.41h1.4M34.40 379.69h1.4M34.40 380.96h1.4M34.40 382.24h1.4M34.40 383.51h1.4M34.40 384.78h1.4M34.40 386.06h1.4M34.40 387.33h1.4M34.40 388.61h1.4M34.40 391.15h1.4M34.40 392.43h1.4M34.40 393.70h1.4M34.40 394.98h1.4M34.40 396.25h1.4M34.40 397.52h1.4M34.40 398.80h1.4M34.40 400.07h1.4M34.40 401.35h1.4M34.40 403.89h1.4M34.40 405.17h1.4M34.40 406.44h1.4M34.40 407.72h1.4M34.40 408.99h1.4M34.40 410.26h1.4M34.40 411.54h1.4M34.40 412.81h1.4M34.40 414.09h1.4M34.40 416.63h1.4" stroke="#333" stroke-width="0.75" fill="none"/>
<path d="M34.40 299.30V418.20H184.10" fill="none" stroke="#2a2a2a" stroke-width="1.15"/>
<text transform="translate(31.40 303.10) rotate(0.04) scale(1 1.095)" font-size="7.90" text-anchor="end">100</text>
<text transform="translate(31.40 315.84) rotate(0.04) scale(1 1.095)" font-size="7.90" text-anchor="end">90</text>
<text transform="translate(31.40 328.58) rotate(0.04) scale(1 1.095)" font-size="7.90" text-anchor="end">80</text>
<text transform="translate(31.40 341.32) rotate(0.04) scale(1 1.095)" font-size="7.90" text-anchor="end">70</text>
<text transform="translate(31.40 354.06) rotate(0.04) scale(1 1.095)" font-size="7.90" text-anchor="end">60</text>
<text transform="translate(31.40 366.80) rotate(0.04) scale(1 1.095)" font-size="7.90" text-anchor="end">50</text>
<text transform="translate(31.40 379.54) rotate(0.04) scale(1 1.095)" font-size="7.90" text-anchor="end">40</text>
<text transform="translate(31.40 392.28) rotate(0.04) scale(1 1.095)" font-size="7.90" text-anchor="end">30</text>
<text transform="translate(31.40 405.02) rotate(0.04) scale(1 1.095)" font-size="7.90" text-anchor="end">20</text>
<text transform="translate(31.40 417.76) rotate(0.04) scale(1 1.095)" font-size="7.90" text-anchor="end">10</text>
<text transform="translate(41.50 426.70) rotate(0.04)" font-size="8.00" text-anchor="middle">0</text>
<text transform="translate(58.72 426.70) rotate(0.04)" font-size="8.00" text-anchor="middle">5</text>
<text transform="translate(75.93 426.70) rotate(0.04)" font-size="8.00" text-anchor="middle">10</text>
<text transform="translate(93.14 426.70) rotate(0.04)" font-size="8.00" text-anchor="middle">15</text>
<text transform="translate(110.36 426.70) rotate(0.04)" font-size="8.00" text-anchor="middle">20</text>
<text transform="translate(127.58 426.70) rotate(0.04)" font-size="8.00" text-anchor="middle">25</text>
<text transform="translate(144.79 426.70) rotate(0.04)" font-size="8.00" text-anchor="middle">30</text>
<text transform="translate(162.00 426.70) rotate(0.04)" font-size="8.00" text-anchor="middle">35</text>
<text transform="translate(179.22 426.70) rotate(0.04)" font-size="8.00" text-anchor="middle">40</text>
<text transform="translate(108.85 436.30) rotate(0.04)" font-size="9.02" text-anchor="middle">Radiation heat flux [kW/m<tspan font-size="5.6" dy="-3.2">2</tspan><tspan dy="3.2">]</tspan></text>
<text transform="translate(13.10 358.65) rotate(-90.04) scale(1 1.080)" font-size="8.70" text-anchor="middle"><tspan font-style="italic">L</tspan><tspan font-style="italic" font-size="6.4" dy="1.8">r</tspan><tspan dy="-1.8"> [m]</tspan></text>
<text transform="translate(93.20 316.80) rotate(0.04) scale(1 1.080)" font-size="9.00" text-anchor="middle">Confined-trench</text>
<text transform="translate(93.20 327.20) rotate(0.04) scale(1 1.080)" font-size="9.00" text-anchor="middle"><tspan font-style="italic">d</tspan> = 102.8 mm</text>
<polyline points="47.21,324.00 57.88,367.60 63.39,376.00 84.74,392.40 96.10,400.00 127.78,404.00 170.81,410.00" fill="none" stroke="#707070" stroke-width="1.12"/>
<rect x="45.18" y="321.97" width="4.06" height="4.06" fill="#fff" stroke="#3a3a3a" stroke-width="1.30" stroke-linejoin="miter"/>
<rect x="55.85" y="365.57" width="4.06" height="4.06" fill="#fff" stroke="#3a3a3a" stroke-width="1.30" stroke-linejoin="miter"/>
<rect x="61.36" y="373.97" width="4.06" height="4.06" fill="#fff" stroke="#3a3a3a" stroke-width="1.30" stroke-linejoin="miter"/>
<rect x="82.71" y="390.37" width="4.06" height="4.06" fill="#fff" stroke="#3a3a3a" stroke-width="1.30" stroke-linejoin="miter"/>
<rect x="94.07" y="397.97" width="4.06" height="4.06" fill="#fff" stroke="#3a3a3a" stroke-width="1.30" stroke-linejoin="miter"/>
<rect x="125.75" y="401.97" width="4.06" height="4.06" fill="#fff" stroke="#3a3a3a" stroke-width="1.30" stroke-linejoin="miter"/>
<rect x="168.78" y="407.97" width="4.06" height="4.06" fill="#fff" stroke="#3a3a3a" stroke-width="1.30" stroke-linejoin="miter"/>
<polyline points="47.21,317.00 57.88,362.40 63.39,370.00 84.74,386.00 96.10,391.00 127.78,399.40 170.81,405.00" fill="none" stroke="#f25560" stroke-width="1.12"/>
<circle cx="47.21" cy="317.00" r="2.24" fill="#fff" stroke="#ee3344" stroke-width="1.30" stroke-linejoin="miter"/>
<circle cx="57.88" cy="362.40" r="2.24" fill="#fff" stroke="#ee3344" stroke-width="1.30" stroke-linejoin="miter"/>
<circle cx="63.39" cy="370.00" r="2.24" fill="#fff" stroke="#ee3344" stroke-width="1.30" stroke-linejoin="miter"/>
<circle cx="84.74" cy="386.00" r="2.24" fill="#fff" stroke="#ee3344" stroke-width="1.30" stroke-linejoin="miter"/>
<circle cx="96.10" cy="391.00" r="2.24" fill="#fff" stroke="#ee3344" stroke-width="1.30" stroke-linejoin="miter"/>
<circle cx="127.78" cy="399.40" r="2.24" fill="#fff" stroke="#ee3344" stroke-width="1.30" stroke-linejoin="miter"/>
<circle cx="170.81" cy="405.00" r="2.24" fill="#fff" stroke="#ee3344" stroke-width="1.30" stroke-linejoin="miter"/>
<polyline points="47.21,315.00 57.88,363.60 63.39,371.40 84.74,388.40 96.10,394.00 127.78,401.60 170.81,408.00" fill="none" stroke="#3a7cf0" stroke-width="1.12"/>
<path d="M47.21 311.81L50.16 317.06L44.26 317.06Z" fill="#fff" stroke="#1560e8" stroke-width="1.30" stroke-linejoin="miter"/>
<path d="M57.88 360.41L60.83 365.67L54.93 365.67Z" fill="#fff" stroke="#1560e8" stroke-width="1.30" stroke-linejoin="miter"/>
<path d="M63.39 368.21L66.34 373.46L60.44 373.46Z" fill="#fff" stroke="#1560e8" stroke-width="1.30" stroke-linejoin="miter"/>
<path d="M84.74 385.21L87.69 390.46L81.79 390.46Z" fill="#fff" stroke="#1560e8" stroke-width="1.30" stroke-linejoin="miter"/>
<path d="M96.10 390.81L99.05 396.06L93.15 396.06Z" fill="#fff" stroke="#1560e8" stroke-width="1.30" stroke-linejoin="miter"/>
<path d="M127.78 398.41L130.72 403.67L124.83 403.67Z" fill="#fff" stroke="#1560e8" stroke-width="1.30" stroke-linejoin="miter"/>
<path d="M170.81 404.81L173.76 410.06L167.86 410.06Z" fill="#fff" stroke="#1560e8" stroke-width="1.30" stroke-linejoin="miter"/>
<polyline points="47.21,314.80 57.88,358.60 63.39,366.60 84.74,383.00 96.10,387.40 127.78,394.30 170.81,399.40" fill="none" stroke="#2fbf78" stroke-width="1.12"/>
<path d="M47.21 317.99L50.16 312.74L44.26 312.74Z" fill="#fff" stroke="#18b064" stroke-width="1.30" stroke-linejoin="miter"/>
<path d="M57.88 361.79L60.83 356.54L54.93 356.54Z" fill="#fff" stroke="#18b064" stroke-width="1.30" stroke-linejoin="miter"/>
<path d="M63.39 369.79L66.34 364.54L60.44 364.54Z" fill="#fff" stroke="#18b064" stroke-width="1.30" stroke-linejoin="miter"/>
<path d="M84.74 386.19L87.69 380.94L81.79 380.94Z" fill="#fff" stroke="#18b064" stroke-width="1.30" stroke-linejoin="miter"/>
<path d="M96.10 390.59L99.05 385.33L93.15 385.33Z" fill="#fff" stroke="#18b064" stroke-width="1.30" stroke-linejoin="miter"/>
<path d="M127.78 397.49L130.72 392.24L124.83 392.24Z" fill="#fff" stroke="#18b064" stroke-width="1.30" stroke-linejoin="miter"/>
<path d="M170.81 402.59L173.76 397.33L167.86 397.33Z" fill="#fff" stroke="#18b064" stroke-width="1.30" stroke-linejoin="miter"/>
<polyline points="47.21,316.00 57.88,360.00 63.39,369.20 84.74,384.40 96.10,389.60 127.78,396.60 170.81,401.80" fill="none" stroke="#c98af0" stroke-width="1.12"/>
<path d="M47.21 312.87L50.34 316.00L47.21 319.13L44.07 316.00Z" fill="#fff" stroke="#b866e8" stroke-width="1.30" stroke-linejoin="miter"/>
<path d="M57.88 356.87L61.02 360.00L57.88 363.13L54.75 360.00Z" fill="#fff" stroke="#b866e8" stroke-width="1.30" stroke-linejoin="miter"/>
<path d="M63.39 366.06L66.53 369.20L63.39 372.33L60.26 369.20Z" fill="#fff" stroke="#b866e8" stroke-width="1.30" stroke-linejoin="miter"/>
<path d="M84.74 381.26L87.87 384.40L84.74 387.53L81.60 384.40Z" fill="#fff" stroke="#b866e8" stroke-width="1.30" stroke-linejoin="miter"/>
<path d="M96.10 386.47L99.23 389.60L96.10 392.74L92.96 389.60Z" fill="#fff" stroke="#b866e8" stroke-width="1.30" stroke-linejoin="miter"/>
<path d="M127.78 393.47L130.91 396.60L127.78 399.74L124.64 396.60Z" fill="#fff" stroke="#b866e8" stroke-width="1.30" stroke-linejoin="miter"/>
<path d="M170.81 398.67L173.95 401.80L170.81 404.94L167.68 401.80Z" fill="#fff" stroke="#b866e8" stroke-width="1.30" stroke-linejoin="miter"/>
<polyline points="46.81,307.00 57.48,349.00 62.99,357.00 84.34,372.00 95.70,374.00 127.38,384.00 170.41,390.60" fill="none" stroke="#e6a830" stroke-width="1.12"/>
<path d="M43.70 307.00L48.82 304.12L48.82 309.88Z" fill="#fff" stroke="#dc9612" stroke-width="1.30" stroke-linejoin="miter"/>
<path d="M54.38 349.00L59.49 346.12L59.49 351.88Z" fill="#fff" stroke="#dc9612" stroke-width="1.30" stroke-linejoin="miter"/>
<path d="M59.89 357.00L65.00 354.12L65.00 359.88Z" fill="#fff" stroke="#dc9612" stroke-width="1.30" stroke-linejoin="miter"/>
<path d="M81.23 372.00L86.35 369.12L86.35 374.88Z" fill="#fff" stroke="#dc9612" stroke-width="1.30" stroke-linejoin="miter"/>
<path d="M92.59 374.00L97.71 371.12L97.71 376.88Z" fill="#fff" stroke="#dc9612" stroke-width="1.30" stroke-linejoin="miter"/>
<path d="M124.27 384.00L129.39 381.12L129.39 386.88Z" fill="#fff" stroke="#dc9612" stroke-width="1.30" stroke-linejoin="miter"/>
<path d="M167.31 390.60L172.42 387.73L172.42 393.48Z" fill="#fff" stroke="#dc9612" stroke-width="1.30" stroke-linejoin="miter"/>
<polyline points="47.81,310.00 58.48,354.00 63.99,361.00 85.34,377.40 96.70,379.00 128.38,389.40 171.41,395.60" fill="none" stroke="#30d4dc" stroke-width="1.12"/>
<path d="M50.91 310.00L45.80 307.12L45.80 312.88Z" fill="#fff" stroke="#14c4d0" stroke-width="1.30" stroke-linejoin="miter"/>
<path d="M61.59 354.00L56.47 351.12L56.47 356.88Z" fill="#fff" stroke="#14c4d0" stroke-width="1.30" stroke-linejoin="miter"/>
<path d="M67.10 361.00L61.98 358.12L61.98 363.88Z" fill="#fff" stroke="#14c4d0" stroke-width="1.30" stroke-linejoin="miter"/>
<path d="M88.44 377.40L83.33 374.52L83.33 380.27Z" fill="#fff" stroke="#14c4d0" stroke-width="1.30" stroke-linejoin="miter"/>
<path d="M99.80 379.00L94.69 376.12L94.69 381.88Z" fill="#fff" stroke="#14c4d0" stroke-width="1.30" stroke-linejoin="miter"/>
<path d="M131.48 389.40L126.36 386.52L126.36 392.27Z" fill="#fff" stroke="#14c4d0" stroke-width="1.30" stroke-linejoin="miter"/>
<path d="M174.52 395.60L169.40 392.73L169.40 398.48Z" fill="#fff" stroke="#14c4d0" stroke-width="1.30" stroke-linejoin="miter"/>
<rect x="132.30" y="302.40" width="50.20" height="70.80" fill="#fff" stroke="#606060" stroke-width="0.95"/>
<path d="M133.60 308.40H146.00" stroke="#707070" stroke-width="1.1"/>
<rect x="137.61" y="306.41" width="3.97" height="3.97" fill="#fff" stroke="#3a3a3a" stroke-width="1.30" stroke-linejoin="miter"/>
<text transform="translate(148.60 310.00) rotate(0.04) scale(1 1.090)" font-size="7.80">0 m/s</text>
<path d="M133.60 318.40H146.00" stroke="#f25560" stroke-width="1.1"/>
<circle cx="139.60" cy="318.40" r="2.19" fill="#fff" stroke="#ee3344" stroke-width="1.30" stroke-linejoin="miter"/>
<text transform="translate(148.60 320.00) rotate(0.04) scale(1 1.090)" font-size="7.80">2 m/s-x</text>
<path d="M133.60 328.40H146.00" stroke="#3a7cf0" stroke-width="1.1"/>
<path d="M139.60 325.28L142.49 330.42L136.71 330.42Z" fill="#fff" stroke="#1560e8" stroke-width="1.30" stroke-linejoin="miter"/>
<text transform="translate(148.60 330.00) rotate(0.04) scale(1 1.090)" font-size="7.80">2 m/s-y</text>
<path d="M133.60 338.40H146.00" stroke="#2fbf78" stroke-width="1.1"/>
<path d="M139.60 341.52L142.49 336.38L136.71 336.38Z" fill="#fff" stroke="#18b064" stroke-width="1.30" stroke-linejoin="miter"/>
<text transform="translate(148.60 340.00) rotate(0.04) scale(1 1.090)" font-size="7.80">6 m/s-x</text>
<path d="M133.60 348.40H146.00" stroke="#c98af0" stroke-width="1.1"/>
<path d="M139.60 345.33L142.67 348.40L139.60 351.47L136.53 348.40Z" fill="#fff" stroke="#b866e8" stroke-width="1.30" stroke-linejoin="miter"/>
<text transform="translate(148.60 350.00) rotate(0.04) scale(1 1.090)" font-size="7.80">6 m/s-y</text>
<path d="M133.60 358.40H146.00" stroke="#e6a830" stroke-width="1.1"/>
<path d="M136.56 358.40L141.57 355.58L141.57 361.22Z" fill="#fff" stroke="#dc9612" stroke-width="1.30" stroke-linejoin="miter"/>
<text transform="translate(148.60 360.00) rotate(0.04) scale(1 1.090)" font-size="7.80">10 m/s-x</text>
<path d="M133.60 368.40H146.00" stroke="#30d4dc" stroke-width="1.1"/>
<path d="M142.64 368.40L137.63 365.58L137.63 371.22Z" fill="#fff" stroke="#14c4d0" stroke-width="1.30" stroke-linejoin="miter"/>
<text transform="translate(148.60 370.00) rotate(0.04) scale(1 1.090)" font-size="7.80">10 m/s-y</text>
</g>
<g>
<path d="M214.60 299.40H363.20V418.20" fill="none" stroke="#666" stroke-width="0.9"/>
<path d="M221.50 418.20v-2.6M238.77 418.20v-2.6M256.04 418.20v-2.6M273.31 418.20v-2.6M290.58 418.20v-2.6M307.85 418.20v-2.6M325.12 418.20v-2.6M342.39 418.20v-2.6M359.66 418.20v-2.6M214.60 308.40h2.6M214.60 325.50h2.6M214.60 342.60h2.6M214.60 359.70h2.6M214.60 376.80h2.6M214.60 393.90h2.6M214.60 411.00h2.6" stroke="#2a2a2a" stroke-width="0.9" fill="none"/>
<path d="M218.05 418.20v-1.4M224.95 418.20v-1.4M228.41 418.20v-1.4M231.86 418.20v-1.4M235.32 418.20v-1.4M242.22 418.20v-1.4M245.68 418.20v-1.4M249.13 418.20v-1.4M252.59 418.20v-1.4M259.49 418.20v-1.4M262.95 418.20v-1.4M266.40 418.20v-1.4M269.86 418.20v-1.4M276.76 418.20v-1.4M280.22 418.20v-1.4M283.67 418.20v-1.4M287.13 418.20v-1.4M294.03 418.20v-1.4M297.49 418.20v-1.4M300.94 418.20v-1.4M304.40 418.20v-1.4M311.30 418.20v-1.4M314.76 418.20v-1.4M318.21 418.20v-1.4M321.67 418.20v-1.4M328.57 418.20v-1.4M332.03 418.20v-1.4M335.48 418.20v-1.4M338.94 418.20v-1.4M345.84 418.20v-1.4M349.30 418.20v-1.4M352.75 418.20v-1.4M356.21 418.20v-1.4M214.60 299.85h1.4M214.60 301.56h1.4M214.60 303.27h1.4M214.60 304.98h1.4M214.60 306.69h1.4M214.60 310.11h1.4M214.60 311.82h1.4M214.60 313.53h1.4M214.60 315.24h1.4M214.60 316.95h1.4M214.60 318.66h1.4M214.60 320.37h1.4M214.60 322.08h1.4M214.60 323.79h1.4M214.60 327.21h1.4M214.60 328.92h1.4M214.60 330.63h1.4M214.60 332.34h1.4M214.60 334.05h1.4M214.60 335.76h1.4M214.60 337.47h1.4M214.60 339.18h1.4M214.60 340.89h1.4M214.60 344.31h1.4M214.60 346.02h1.4M214.60 347.73h1.4M214.60 349.44h1.4M214.60 351.15h1.4M214.60 352.86h1.4M214.60 354.57h1.4M214.60 356.28h1.4M214.60 357.99h1.4M214.60 361.41h1.4M214.60 363.12h1.4M214.60 364.83h1.4M214.60 366.54h1.4M214.60 368.25h1.4M214.60 369.96h1.4M214.60 371.67h1.4M214.60 373.38h1.4M214.60 375.09h1.4M214.60 378.51h1.4M214.60 380.22h1.4M214.60 381.93h1.4M214.60 383.64h1.4M214.60 385.35h1.4M214.60 387.06h1.4M214.60 388.77h1.4M214.60 390.48h1.4M214.60 392.19h1.4M214.60 395.61h1.4M214.60 397.32h1.4M214.60 399.03h1.4M214.60 400.74h1.4M214.60 402.45h1.4M214.60 404.16h1.4M214.60 405.87h1.4M214.60 407.58h1.4M214.60 409.29h1.4M214.60 412.71h1.4M214.60 414.42h1.4M214.60 416.13h1.4" stroke="#333" stroke-width="0.75" fill="none"/>
<path d="M214.60 299.00V418.20H363.60" fill="none" stroke="#2a2a2a" stroke-width="1.15"/>
<text transform="translate(211.20 310.80) rotate(0.04) scale(1 1.123)" font-size="7.70" text-anchor="end">140</text>
<text transform="translate(211.20 327.90) rotate(0.04) scale(1 1.123)" font-size="7.70" text-anchor="end">120</text>
<text transform="translate(211.20 345.00) rotate(0.04) scale(1 1.123)" font-size="7.70" text-anchor="end">100</text>
<text transform="translate(211.20 362.10) rotate(0.04) scale(1 1.123)" font-size="7.70" text-anchor="end">80</text>
<text transform="translate(211.20 379.20) rotate(0.04) scale(1 1.123)" font-size="7.70" text-anchor="end">60</text>
<text transform="translate(211.20 396.30) rotate(0.04) scale(1 1.123)" font-size="7.70" text-anchor="end">40</text>
<text transform="translate(211.20 413.40) rotate(0.04) scale(1 1.123)" font-size="7.70" text-anchor="end">20</text>
<text transform="translate(221.30 426.70) rotate(0.04)" font-size="8.00" text-anchor="middle">0</text>
<text transform="translate(238.57 426.70) rotate(0.04)" font-size="8.00" text-anchor="middle">5</text>
<text transform="translate(255.84 426.70) rotate(0.04)" font-size="8.00" text-anchor="middle">10</text>
<text transform="translate(273.11 426.70) rotate(0.04)" font-size="8.00" text-anchor="middle">15</text>
<text transform="translate(290.38 426.70) rotate(0.04)" font-size="8.00" text-anchor="middle">20</text>
<text transform="translate(307.65 426.70) rotate(0.04)" font-size="8.00" text-anchor="middle">25</text>
<text transform="translate(324.92 426.70) rotate(0.04)" font-size="8.00" text-anchor="middle">30</text>
<text transform="translate(342.19 426.70) rotate(0.04)" font-size="8.00" text-anchor="middle">35</text>
<text transform="translate(359.46 426.70) rotate(0.04)" font-size="8.00" text-anchor="middle">40</text>
<text transform="translate(288.70 436.30) rotate(0.04)" font-size="9.02" text-anchor="middle">Radiation heat flux [kW/m<tspan font-size="5.6" dy="-3.2">2</tspan><tspan dy="3.2">]</tspan></text>
<text transform="translate(192.80 358.50) rotate(-90.04) scale(1 1.080)" font-size="8.70" text-anchor="middle"><tspan font-style="italic">L</tspan><tspan font-style="italic" font-size="6.4" dy="1.8">r</tspan><tspan dy="-1.8"> [m]</tspan></text>
<text transform="translate(272.30 311.60) rotate(0.04) scale(1 1.080)" font-size="9.00" text-anchor="middle">Confined-trench</text>
<text transform="translate(272.30 322.80) rotate(0.04) scale(1 1.080)" font-size="9.00" text-anchor="middle"><tspan font-style="italic">d</tspan> = 325 mm</text>
<polyline points="227.03,349.00 237.73,381.60 243.26,387.40 264.68,399.00 276.07,399.20 307.85,408.00 351.02,411.60" fill="none" stroke="#707070" stroke-width="1.12"/>
<rect x="225.00" y="346.97" width="4.06" height="4.06" fill="#fff" stroke="#3a3a3a" stroke-width="1.30" stroke-linejoin="miter"/>
<rect x="235.71" y="379.57" width="4.06" height="4.06" fill="#fff" stroke="#3a3a3a" stroke-width="1.30" stroke-linejoin="miter"/>
<rect x="241.23" y="385.37" width="4.06" height="4.06" fill="#fff" stroke="#3a3a3a" stroke-width="1.30" stroke-linejoin="miter"/>
<rect x="262.65" y="396.97" width="4.06" height="4.06" fill="#fff" stroke="#3a3a3a" stroke-width="1.30" stroke-linejoin="miter"/>
<rect x="274.05" y="397.17" width="4.06" height="4.06" fill="#fff" stroke="#3a3a3a" stroke-width="1.30" stroke-linejoin="miter"/>
<rect x="305.82" y="405.97" width="4.06" height="4.06" fill="#fff" stroke="#3a3a3a" stroke-width="1.30" stroke-linejoin="miter"/>
<rect x="349.00" y="409.57" width="4.06" height="4.06" fill="#fff" stroke="#3a3a3a" stroke-width="1.30" stroke-linejoin="miter"/>
<polyline points="227.03,319.40 237.73,347.40 243.26,357.40 264.68,377.60 276.07,383.00 307.85,392.60 351.02,399.00" fill="none" stroke="#f25560" stroke-width="1.12"/>
<circle cx="227.03" cy="319.40" r="2.24" fill="#fff" stroke="#ee3344" stroke-width="1.30" stroke-linejoin="miter"/>
<circle cx="237.73" cy="347.40" r="2.24" fill="#fff" stroke="#ee3344" stroke-width="1.30" stroke-linejoin="miter"/>
<circle cx="243.26" cy="357.40" r="2.24" fill="#fff" stroke="#ee3344" stroke-width="1.30" stroke-linejoin="miter"/>
<circle cx="264.68" cy="377.60" r="2.24" fill="#fff" stroke="#ee3344" stroke-width="1.30" stroke-linejoin="miter"/>
<circle cx="276.07" cy="383.00" r="2.24" fill="#fff" stroke="#ee3344" stroke-width="1.30" stroke-linejoin="miter"/>
<circle cx="307.85" cy="392.60" r="2.24" fill="#fff" stroke="#ee3344" stroke-width="1.30" stroke-linejoin="miter"/>
<circle cx="351.02" cy="399.00" r="2.24" fill="#fff" stroke="#ee3344" stroke-width="1.30" stroke-linejoin="miter"/>
<polyline points="227.03,326.40 237.73,352.60 243.26,363.00 264.68,383.00 276.07,385.60 307.85,397.60 351.02,404.40" fill="none" stroke="#3a7cf0" stroke-width="1.12"/>
<path d="M227.03 323.21L229.98 328.46L224.08 328.46Z" fill="#fff" stroke="#1560e8" stroke-width="1.30" stroke-linejoin="miter"/>
<path d="M237.73 349.41L240.68 354.67L234.78 354.67Z" fill="#fff" stroke="#1560e8" stroke-width="1.30" stroke-linejoin="miter"/>
<path d="M243.26 359.81L246.21 365.06L240.31 365.06Z" fill="#fff" stroke="#1560e8" stroke-width="1.30" stroke-linejoin="miter"/>
<path d="M264.68 379.81L267.62 385.06L261.73 385.06Z" fill="#fff" stroke="#1560e8" stroke-width="1.30" stroke-linejoin="miter"/>
<path d="M276.07 382.41L279.02 387.67L273.12 387.67Z" fill="#fff" stroke="#1560e8" stroke-width="1.30" stroke-linejoin="miter"/>
<path d="M307.85 394.41L310.80 399.67L304.90 399.67Z" fill="#fff" stroke="#1560e8" stroke-width="1.30" stroke-linejoin="miter"/>
<path d="M351.02 401.21L353.97 406.46L348.07 406.46Z" fill="#fff" stroke="#1560e8" stroke-width="1.30" stroke-linejoin="miter"/>
<polyline points="227.03,315.00 237.73,340.00 243.26,348.00 264.68,370.00 276.07,376.40 307.85,383.60 351.02,389.60" fill="none" stroke="#2fbf78" stroke-width="1.12"/>
<path d="M227.03 318.19L229.98 312.94L224.08 312.94Z" fill="#fff" stroke="#18b064" stroke-width="1.30" stroke-linejoin="miter"/>
<path d="M237.73 343.19L240.68 337.94L234.78 337.94Z" fill="#fff" stroke="#18b064" stroke-width="1.30" stroke-linejoin="miter"/>
<path d="M243.26 351.19L246.21 345.94L240.31 345.94Z" fill="#fff" stroke="#18b064" stroke-width="1.30" stroke-linejoin="miter"/>
<path d="M264.68 373.19L267.62 367.94L261.73 367.94Z" fill="#fff" stroke="#18b064" stroke-width="1.30" stroke-linejoin="miter"/>
<path d="M276.07 379.59L279.02 374.33L273.12 374.33Z" fill="#fff" stroke="#18b064" stroke-width="1.30" stroke-linejoin="miter"/>
<path d="M307.85 386.79L310.80 381.54L304.90 381.54Z" fill="#fff" stroke="#18b064" stroke-width="1.30" stroke-linejoin="miter"/>
<path d="M351.02 392.79L353.97 387.54L348.07 387.54Z" fill="#fff" stroke="#18b064" stroke-width="1.30" stroke-linejoin="miter"/>
<polyline points="227.03,318.40 237.73,341.00 243.26,351.00 264.68,371.60 276.07,381.60 307.85,385.00 351.02,391.00" fill="none" stroke="#c98af0" stroke-width="1.12"/>
<path d="M227.03 315.26L230.16 318.40L227.03 321.53L223.89 318.40Z" fill="#fff" stroke="#b866e8" stroke-width="1.30" stroke-linejoin="miter"/>
<path d="M237.73 337.87L240.87 341.00L237.73 344.13L234.60 341.00Z" fill="#fff" stroke="#b866e8" stroke-width="1.30" stroke-linejoin="miter"/>
<path d="M243.26 347.87L246.40 351.00L243.26 354.13L240.13 351.00Z" fill="#fff" stroke="#b866e8" stroke-width="1.30" stroke-linejoin="miter"/>
<path d="M264.68 368.47L267.81 371.60L264.68 374.74L261.54 371.60Z" fill="#fff" stroke="#b866e8" stroke-width="1.30" stroke-linejoin="miter"/>
<path d="M276.07 378.47L279.21 381.60L276.07 384.74L272.94 381.60Z" fill="#fff" stroke="#b866e8" stroke-width="1.30" stroke-linejoin="miter"/>
<path d="M307.85 381.87L310.99 385.00L307.85 388.13L304.72 385.00Z" fill="#fff" stroke="#b866e8" stroke-width="1.30" stroke-linejoin="miter"/>
<path d="M351.02 387.87L354.16 391.00L351.02 394.13L347.89 391.00Z" fill="#fff" stroke="#b866e8" stroke-width="1.30" stroke-linejoin="miter"/>
<polyline points="226.53,309.40 237.23,333.00 242.76,342.00 264.18,360.40 275.57,363.00 307.35,374.40 350.52,381.60" fill="none" stroke="#e6a830" stroke-width="1.12"/>
<path d="M223.42 309.40L228.54 306.52L228.54 312.27Z" fill="#fff" stroke="#dc9612" stroke-width="1.30" stroke-linejoin="miter"/>
<path d="M234.13 333.00L239.25 330.12L239.25 335.88Z" fill="#fff" stroke="#dc9612" stroke-width="1.30" stroke-linejoin="miter"/>
<path d="M239.66 342.00L244.77 339.12L244.77 344.88Z" fill="#fff" stroke="#dc9612" stroke-width="1.30" stroke-linejoin="miter"/>
<path d="M261.07 360.40L266.19 357.52L266.19 363.27Z" fill="#fff" stroke="#dc9612" stroke-width="1.30" stroke-linejoin="miter"/>
<path d="M272.47 363.00L277.59 360.12L277.59 365.88Z" fill="#fff" stroke="#dc9612" stroke-width="1.30" stroke-linejoin="miter"/>
<path d="M304.25 374.40L309.36 371.52L309.36 377.27Z" fill="#fff" stroke="#dc9612" stroke-width="1.30" stroke-linejoin="miter"/>
<path d="M347.42 381.60L352.54 378.73L352.54 384.48Z" fill="#fff" stroke="#dc9612" stroke-width="1.30" stroke-linejoin="miter"/>
<polyline points="227.53,311.00 238.23,335.00 243.76,344.00 265.18,362.00 276.57,368.00 308.35,376.00 351.52,383.00" fill="none" stroke="#30d4dc" stroke-width="1.12"/>
<path d="M230.63 311.00L225.51 308.12L225.51 313.88Z" fill="#fff" stroke="#14c4d0" stroke-width="1.30" stroke-linejoin="miter"/>
<path d="M241.34 335.00L236.22 332.12L236.22 337.88Z" fill="#fff" stroke="#14c4d0" stroke-width="1.30" stroke-linejoin="miter"/>
<path d="M246.87 344.00L241.75 341.12L241.75 346.88Z" fill="#fff" stroke="#14c4d0" stroke-width="1.30" stroke-linejoin="miter"/>
<path d="M268.28 362.00L263.16 359.12L263.16 364.88Z" fill="#fff" stroke="#14c4d0" stroke-width="1.30" stroke-linejoin="miter"/>
<path d="M279.68 368.00L274.56 365.12L274.56 370.88Z" fill="#fff" stroke="#14c4d0" stroke-width="1.30" stroke-linejoin="miter"/>
<path d="M311.46 376.00L306.34 373.12L306.34 378.88Z" fill="#fff" stroke="#14c4d0" stroke-width="1.30" stroke-linejoin="miter"/>
<path d="M354.63 383.00L349.51 380.12L349.51 385.88Z" fill="#fff" stroke="#14c4d0" stroke-width="1.30" stroke-linejoin="miter"/>
<rect x="311.90" y="302.40" width="50.30" height="70.40" fill="#fff" stroke="#606060" stroke-width="0.95"/>
<path d="M313.60 308.20H326.00" stroke="#707070" stroke-width="1.1"/>
<rect x="317.41" y="306.21" width="3.97" height="3.97" fill="#fff" stroke="#3a3a3a" stroke-width="1.30" stroke-linejoin="miter"/>
<text transform="translate(328.60 309.80) rotate(0.04) scale(1 1.090)" font-size="7.80">0 m/s</text>
<path d="M313.60 318.20H326.00" stroke="#f25560" stroke-width="1.1"/>
<circle cx="319.40" cy="318.20" r="2.19" fill="#fff" stroke="#ee3344" stroke-width="1.30" stroke-linejoin="miter"/>
<text transform="translate(328.60 319.80) rotate(0.04) scale(1 1.090)" font-size="7.80">2 m/s-x</text>
<path d="M313.60 328.20H326.00" stroke="#3a7cf0" stroke-width="1.1"/>
<path d="M319.40 325.08L322.29 330.22L316.51 330.22Z" fill="#fff" stroke="#1560e8" stroke-width="1.30" stroke-linejoin="miter"/>
<text transform="translate(328.60 329.80) rotate(0.04) scale(1 1.090)" font-size="7.80">2 m/s-y</text>
<path d="M313.60 338.20H326.00" stroke="#2fbf78" stroke-width="1.1"/>
<path d="M319.40 341.32L322.29 336.18L316.51 336.18Z" fill="#fff" stroke="#18b064" stroke-width="1.30" stroke-linejoin="miter"/>
<text transform="translate(328.60 339.80) rotate(0.04) scale(1 1.090)" font-size="7.80">6 m/s-x</text>
<path d="M313.60 348.20H326.00" stroke="#c98af0" stroke-width="1.1"/>
<path d="M319.40 345.13L322.47 348.20L319.40 351.27L316.33 348.20Z" fill="#fff" stroke="#b866e8" stroke-width="1.30" stroke-linejoin="miter"/>
<text transform="translate(328.60 349.80) rotate(0.04) scale(1 1.090)" font-size="7.80">6 m/s-y</text>
<path d="M313.60 358.20H326.00" stroke="#e6a830" stroke-width="1.1"/>
<path d="M316.36 358.20L321.37 355.38L321.37 361.02Z" fill="#fff" stroke="#dc9612" stroke-width="1.30" stroke-linejoin="miter"/>
<text transform="translate(328.60 359.80) rotate(0.04) scale(1 1.090)" font-size="7.80">10 m/s-x</text>
<path d="M313.60 368.20H326.00" stroke="#30d4dc" stroke-width="1.1"/>
<path d="M322.44 368.20L317.43 365.38L317.43 371.02Z" fill="#fff" stroke="#14c4d0" stroke-width="1.30" stroke-linejoin="miter"/>
<text transform="translate(328.60 369.80) rotate(0.04) scale(1 1.090)" font-size="7.80">10 m/s-y</text>
</g>
<g>
<path d="M34.60 445.10H183.60V563.80" fill="none" stroke="#666" stroke-width="0.9"/>
<path d="M41.70 563.80v-2.6M58.92 563.80v-2.6M76.13 563.80v-2.6M93.34 563.80v-2.6M110.56 563.80v-2.6M127.78 563.80v-2.6M144.99 563.80v-2.6M162.20 563.80v-2.6M179.42 563.80v-2.6M34.60 458.36h2.6M34.60 471.62h2.6M34.60 484.88h2.6M34.60 498.14h2.6M34.60 511.40h2.6M34.60 524.66h2.6M34.60 537.92h2.6M34.60 551.18h2.6" stroke="#2a2a2a" stroke-width="0.9" fill="none"/>
<path d="M38.26 563.80v-1.4M45.14 563.80v-1.4M48.59 563.80v-1.4M52.03 563.80v-1.4M55.47 563.80v-1.4M62.36 563.80v-1.4M65.80 563.80v-1.4M69.24 563.80v-1.4M72.69 563.80v-1.4M79.57 563.80v-1.4M83.02 563.80v-1.4M86.46 563.80v-1.4M89.90 563.80v-1.4M96.79 563.80v-1.4M100.23 563.80v-1.4M103.67 563.80v-1.4M107.12 563.80v-1.4M114.00 563.80v-1.4M117.45 563.80v-1.4M120.89 563.80v-1.4M124.33 563.80v-1.4M131.22 563.80v-1.4M134.66 563.80v-1.4M138.10 563.80v-1.4M141.55 563.80v-1.4M148.43 563.80v-1.4M151.88 563.80v-1.4M155.32 563.80v-1.4M158.76 563.80v-1.4M165.65 563.80v-1.4M169.09 563.80v-1.4M172.53 563.80v-1.4M175.98 563.80v-1.4M182.86 563.80v-1.4M34.60 446.43h1.4M34.60 447.75h1.4M34.60 449.08h1.4M34.60 450.40h1.4M34.60 451.73h1.4M34.60 453.06h1.4M34.60 454.38h1.4M34.60 455.71h1.4M34.60 457.03h1.4M34.60 459.69h1.4M34.60 461.01h1.4M34.60 462.34h1.4M34.60 463.66h1.4M34.60 464.99h1.4M34.60 466.32h1.4M34.60 467.64h1.4M34.60 468.97h1.4M34.60 470.29h1.4M34.60 472.95h1.4M34.60 474.27h1.4M34.60 475.60h1.4M34.60 476.92h1.4M34.60 478.25h1.4M34.60 479.58h1.4M34.60 480.90h1.4M34.60 482.23h1.4M34.60 483.55h1.4M34.60 486.21h1.4M34.60 487.53h1.4M34.60 488.86h1.4M34.60 490.18h1.4M34.60 491.51h1.4M34.60 492.84h1.4M34.60 494.16h1.4M34.60 495.49h1.4M34.60 496.81h1.4M34.60 499.47h1.4M34.60 500.79h1.4M34.60 502.12h1.4M34.60 503.44h1.4M34.60 504.77h1.4M34.60 506.10h1.4M34.60 507.42h1.4M34.60 508.75h1.4M34.60 510.07h1.4M34.60 512.73h1.4M34.60 514.05h1.4M34.60 515.38h1.4M34.60 516.70h1.4M34.60 518.03h1.4M34.60 519.36h1.4M34.60 520.68h1.4M34.60 522.01h1.4M34.60 523.33h1.4M34.60 525.99h1.4M34.60 527.31h1.4M34.60 528.64h1.4M34.60 529.96h1.4M34.60 531.29h1.4M34.60 532.62h1.4M34.60 533.94h1.4M34.60 535.27h1.4M34.60 536.59h1.4M34.60 539.25h1.4M34.60 540.57h1.4M34.60 541.90h1.4M34.60 543.22h1.4M34.60 544.55h1.4M34.60 545.88h1.4M34.60 547.20h1.4M34.60 548.53h1.4M34.60 549.85h1.4M34.60 552.51h1.4M34.60 553.83h1.4M34.60 555.16h1.4M34.60 556.48h1.4M34.60 557.81h1.4M34.60 559.14h1.4M34.60 560.46h1.4M34.60 561.79h1.4" stroke="#333" stroke-width="0.75" fill="none"/>
<path d="M34.60 444.70V563.80H184.00" fill="none" stroke="#2a2a2a" stroke-width="1.15"/>
<text transform="translate(31.40 447.50) rotate(0.04) scale(1 1.095)" font-size="7.90" text-anchor="end">100</text>
<text transform="translate(31.40 460.76) rotate(0.04) scale(1 1.095)" font-size="7.90" text-anchor="end">90</text>
<text transform="translate(31.40 474.02) rotate(0.04) scale(1 1.095)" font-size="7.90" text-anchor="end">80</text>
<text transform="translate(31.40 487.28) rotate(0.04) scale(1 1.095)" font-size="7.90" text-anchor="end">70</text>
<text transform="translate(31.40 500.54) rotate(0.04) scale(1 1.095)" font-size="7.90" text-anchor="end">60</text>
<text transform="translate(31.40 513.80) rotate(0.04) scale(1 1.095)" font-size="7.90" text-anchor="end">50</text>
<text transform="translate(31.40 527.06) rotate(0.04) scale(1 1.095)" font-size="7.90" text-anchor="end">40</text>
<text transform="translate(31.40 540.32) rotate(0.04) scale(1 1.095)" font-size="7.90" text-anchor="end">30</text>
<text transform="translate(31.40 553.58) rotate(0.04) scale(1 1.095)" font-size="7.90" text-anchor="end">20</text>
<text transform="translate(31.40 566.84) rotate(0.04) scale(1 1.095)" font-size="7.90" text-anchor="end">10</text>
<text transform="translate(41.50 572.30) rotate(0.04)" font-size="8.00" text-anchor="middle">0</text>
<text transform="translate(58.72 572.30) rotate(0.04)" font-size="8.00" text-anchor="middle">5</text>
<text transform="translate(75.93 572.30) rotate(0.04)" font-size="8.00" text-anchor="middle">10</text>
<text transform="translate(93.14 572.30) rotate(0.04)" font-size="8.00" text-anchor="middle">15</text>
<text transform="translate(110.36 572.30) rotate(0.04)" font-size="8.00" text-anchor="middle">20</text>
<text transform="translate(127.58 572.30) rotate(0.04)" font-size="8.00" text-anchor="middle">25</text>
<text transform="translate(144.79 572.30) rotate(0.04)" font-size="8.00" text-anchor="middle">30</text>
<text transform="translate(162.00 572.30) rotate(0.04)" font-size="8.00" text-anchor="middle">35</text>
<text transform="translate(179.22 572.30) rotate(0.04)" font-size="8.00" text-anchor="middle">40</text>
<text transform="translate(108.90 582.40) rotate(0.04)" font-size="9.02" text-anchor="middle">Radiation heat flux [kW/m<tspan font-size="5.6" dy="-3.2">2</tspan><tspan dy="3.2">]</tspan></text>
<text transform="translate(13.00 504.15) rotate(-90.04) scale(1 1.080)" font-size="8.70" text-anchor="middle"><tspan font-style="italic">L</tspan><tspan font-style="italic" font-size="6.4" dy="1.8">r</tspan><tspan dy="-1.8"> [m]</tspan></text>
<text transform="translate(98.50 460.20) rotate(0.04) scale(1 1.080)" font-size="9.00" text-anchor="middle">Unconfined</text>
<text transform="translate(98.50 470.80) rotate(0.04) scale(1 1.080)" font-size="9.00" text-anchor="middle"><tspan font-style="italic">d</tspan> = 102.8 mm</text>
<polyline points="47.21,481.40 57.88,513.60 63.39,523.00 84.74,539.00 96.10,549.40 127.78,550.60 170.81,556.00" fill="none" stroke="#707070" stroke-width="1.12"/>
<rect x="45.18" y="479.37" width="4.06" height="4.06" fill="#fff" stroke="#3a3a3a" stroke-width="1.30" stroke-linejoin="miter"/>
<rect x="55.85" y="511.57" width="4.06" height="4.06" fill="#fff" stroke="#3a3a3a" stroke-width="1.30" stroke-linejoin="miter"/>
<rect x="61.36" y="520.97" width="4.06" height="4.06" fill="#fff" stroke="#3a3a3a" stroke-width="1.30" stroke-linejoin="miter"/>
<rect x="82.71" y="536.97" width="4.06" height="4.06" fill="#fff" stroke="#3a3a3a" stroke-width="1.30" stroke-linejoin="miter"/>
<rect x="94.07" y="547.37" width="4.06" height="4.06" fill="#fff" stroke="#3a3a3a" stroke-width="1.30" stroke-linejoin="miter"/>
<rect x="125.75" y="548.57" width="4.06" height="4.06" fill="#fff" stroke="#3a3a3a" stroke-width="1.30" stroke-linejoin="miter"/>
<rect x="168.78" y="553.97" width="4.06" height="4.06" fill="#fff" stroke="#3a3a3a" stroke-width="1.30" stroke-linejoin="miter"/>
<polyline points="47.21,469.00 57.88,513.40 63.39,523.00 84.74,538.60 96.10,542.00 127.78,550.60 170.81,556.00" fill="none" stroke="#f25560" stroke-width="1.12"/>
<circle cx="47.21" cy="469.00" r="2.24" fill="#fff" stroke="#ee3344" stroke-width="1.30" stroke-linejoin="miter"/>
<circle cx="57.88" cy="513.40" r="2.24" fill="#fff" stroke="#ee3344" stroke-width="1.30" stroke-linejoin="miter"/>
<circle cx="63.39" cy="523.00" r="2.24" fill="#fff" stroke="#ee3344" stroke-width="1.30" stroke-linejoin="miter"/>
<circle cx="84.74" cy="538.60" r="2.24" fill="#fff" stroke="#ee3344" stroke-width="1.30" stroke-linejoin="miter"/>
<circle cx="96.10" cy="542.00" r="2.24" fill="#fff" stroke="#ee3344" stroke-width="1.30" stroke-linejoin="miter"/>
<circle cx="127.78" cy="550.60" r="2.24" fill="#fff" stroke="#ee3344" stroke-width="1.30" stroke-linejoin="miter"/>
<circle cx="170.81" cy="556.00" r="2.24" fill="#fff" stroke="#ee3344" stroke-width="1.30" stroke-linejoin="miter"/>
<polyline points="47.21,464.00 57.88,501.60 63.39,516.60 84.74,527.60 96.10,536.00 127.78,538.00 170.81,553.00" fill="none" stroke="#3a7cf0" stroke-width="1.12"/>
<path d="M47.21 460.81L50.16 466.06L44.26 466.06Z" fill="#fff" stroke="#1560e8" stroke-width="1.30" stroke-linejoin="miter"/>
<path d="M57.88 498.41L60.83 503.67L54.93 503.67Z" fill="#fff" stroke="#1560e8" stroke-width="1.30" stroke-linejoin="miter"/>
<path d="M63.39 513.41L66.34 518.67L60.44 518.67Z" fill="#fff" stroke="#1560e8" stroke-width="1.30" stroke-linejoin="miter"/>
<path d="M84.74 524.41L87.69 529.67L81.79 529.67Z" fill="#fff" stroke="#1560e8" stroke-width="1.30" stroke-linejoin="miter"/>
<path d="M96.10 532.81L99.05 538.07L93.15 538.07Z" fill="#fff" stroke="#1560e8" stroke-width="1.30" stroke-linejoin="miter"/>
<path d="M127.78 534.81L130.72 540.07L124.83 540.07Z" fill="#fff" stroke="#1560e8" stroke-width="1.30" stroke-linejoin="miter"/>
<path d="M170.81 549.81L173.76 555.07L167.86 555.07Z" fill="#fff" stroke="#1560e8" stroke-width="1.30" stroke-linejoin="miter"/>
<polyline points="47.21,457.40 57.88,500.60 63.39,508.60 84.74,524.20 96.10,528.00 127.78,536.00 170.81,541.00" fill="none" stroke="#2fbf78" stroke-width="1.12"/>
<path d="M47.21 460.59L50.16 455.33L44.26 455.33Z" fill="#fff" stroke="#18b064" stroke-width="1.30" stroke-linejoin="miter"/>
<path d="M57.88 503.79L60.83 498.54L54.93 498.54Z" fill="#fff" stroke="#18b064" stroke-width="1.30" stroke-linejoin="miter"/>
<path d="M63.39 511.79L66.34 506.54L60.44 506.54Z" fill="#fff" stroke="#18b064" stroke-width="1.30" stroke-linejoin="miter"/>
<path d="M84.74 527.39L87.69 522.13L81.79 522.13Z" fill="#fff" stroke="#18b064" stroke-width="1.30" stroke-linejoin="miter"/>
<path d="M96.10 531.19L99.05 525.93L93.15 525.93Z" fill="#fff" stroke="#18b064" stroke-width="1.30" stroke-linejoin="miter"/>
<path d="M127.78 539.19L130.72 533.93L124.83 533.93Z" fill="#fff" stroke="#18b064" stroke-width="1.30" stroke-linejoin="miter"/>
<path d="M170.81 544.19L173.76 538.93L167.86 538.93Z" fill="#fff" stroke="#18b064" stroke-width="1.30" stroke-linejoin="miter"/>
<rect x="134.80" y="452.20" width="42.40" height="41.10" fill="#fff" stroke="#606060" stroke-width="0.95"/>
<path d="M136.40 458.00H149.20" stroke="#707070" stroke-width="1.1"/>
<rect x="141.01" y="456.01" width="3.97" height="3.97" fill="#fff" stroke="#3a3a3a" stroke-width="1.30" stroke-linejoin="miter"/>
<text transform="translate(151.50 459.60) rotate(0.04) scale(1 1.090)" font-size="7.80">0 m/s</text>
<path d="M136.40 467.90H149.20" stroke="#f25560" stroke-width="1.1"/>
<circle cx="143.00" cy="467.90" r="2.19" fill="#fff" stroke="#ee3344" stroke-width="1.30" stroke-linejoin="miter"/>
<text transform="translate(151.50 469.50) rotate(0.04) scale(1 1.090)" font-size="7.80">2 m/s</text>
<path d="M136.40 477.80H149.20" stroke="#3a7cf0" stroke-width="1.1"/>
<path d="M143.00 474.68L145.89 479.82L140.11 479.82Z" fill="#fff" stroke="#1560e8" stroke-width="1.30" stroke-linejoin="miter"/>
<text transform="translate(151.50 479.40) rotate(0.04) scale(1 1.090)" font-size="7.80">6 m/s</text>
<path d="M136.40 487.70H149.20" stroke="#2fbf78" stroke-width="1.1"/>
<path d="M143.00 490.82L145.89 485.68L140.11 485.68Z" fill="#fff" stroke="#18b064" stroke-width="1.30" stroke-linejoin="miter"/>
<text transform="translate(151.50 489.30) rotate(0.04) scale(1 1.090)" font-size="7.80">10 m/s</text>
</g>
<g>
<path d="M214.70 442.10H362.70V561.30" fill="none" stroke="#666" stroke-width="0.9"/>
<path d="M221.45 561.30v-2.6M238.70 561.30v-2.6M255.95 561.30v-2.6M273.20 561.30v-2.6M290.45 561.30v-2.6M307.70 561.30v-2.6M324.95 561.30v-2.6M342.20 561.30v-2.6M359.45 561.30v-2.6M214.70 455.38h2.6M214.70 468.66h2.6M214.70 481.94h2.6M214.70 495.22h2.6M214.70 508.50h2.6M214.70 521.78h2.6M214.70 535.06h2.6M214.70 548.34h2.6" stroke="#2a2a2a" stroke-width="0.9" fill="none"/>
<path d="M218.00 561.30v-1.4M224.90 561.30v-1.4M228.35 561.30v-1.4M231.80 561.30v-1.4M235.25 561.30v-1.4M242.15 561.30v-1.4M245.60 561.30v-1.4M249.05 561.30v-1.4M252.50 561.30v-1.4M259.40 561.30v-1.4M262.85 561.30v-1.4M266.30 561.30v-1.4M269.75 561.30v-1.4M276.65 561.30v-1.4M280.10 561.30v-1.4M283.55 561.30v-1.4M287.00 561.30v-1.4M293.90 561.30v-1.4M297.35 561.30v-1.4M300.80 561.30v-1.4M304.25 561.30v-1.4M311.15 561.30v-1.4M314.60 561.30v-1.4M318.05 561.30v-1.4M321.50 561.30v-1.4M328.40 561.30v-1.4M331.85 561.30v-1.4M335.30 561.30v-1.4M338.75 561.30v-1.4M345.65 561.30v-1.4M349.10 561.30v-1.4M352.55 561.30v-1.4M356.00 561.30v-1.4M214.70 443.43h1.4M214.70 444.76h1.4M214.70 446.08h1.4M214.70 447.41h1.4M214.70 448.74h1.4M214.70 450.07h1.4M214.70 451.40h1.4M214.70 452.72h1.4M214.70 454.05h1.4M214.70 456.71h1.4M214.70 458.04h1.4M214.70 459.36h1.4M214.70 460.69h1.4M214.70 462.02h1.4M214.70 463.35h1.4M214.70 464.68h1.4M214.70 466.00h1.4M214.70 467.33h1.4M214.70 469.99h1.4M214.70 471.32h1.4M214.70 472.64h1.4M214.70 473.97h1.4M214.70 475.30h1.4M214.70 476.63h1.4M214.70 477.96h1.4M214.70 479.28h1.4M214.70 480.61h1.4M214.70 483.27h1.4M214.70 484.60h1.4M214.70 485.92h1.4M214.70 487.25h1.4M214.70 488.58h1.4M214.70 489.91h1.4M214.70 491.24h1.4M214.70 492.56h1.4M214.70 493.89h1.4M214.70 496.55h1.4M214.70 497.88h1.4M214.70 499.20h1.4M214.70 500.53h1.4M214.70 501.86h1.4M214.70 503.19h1.4M214.70 504.52h1.4M214.70 505.84h1.4M214.70 507.17h1.4M214.70 509.83h1.4M214.70 511.16h1.4M214.70 512.48h1.4M214.70 513.81h1.4M214.70 515.14h1.4M214.70 516.47h1.4M214.70 517.80h1.4M214.70 519.12h1.4M214.70 520.45h1.4M214.70 523.11h1.4M214.70 524.44h1.4M214.70 525.76h1.4M214.70 527.09h1.4M214.70 528.42h1.4M214.70 529.75h1.4M214.70 531.08h1.4M214.70 532.40h1.4M214.70 533.73h1.4M214.70 536.39h1.4M214.70 537.72h1.4M214.70 539.04h1.4M214.70 540.37h1.4M214.70 541.70h1.4M214.70 543.03h1.4M214.70 544.36h1.4M214.70 545.68h1.4M214.70 547.01h1.4M214.70 549.67h1.4M214.70 551.00h1.4M214.70 552.32h1.4M214.70 553.65h1.4M214.70 554.98h1.4M214.70 556.31h1.4M214.70 557.64h1.4M214.70 558.96h1.4M214.70 560.29h1.4" stroke="#333" stroke-width="0.75" fill="none"/>
<path d="M214.70 441.70V561.30H363.10" fill="none" stroke="#2a2a2a" stroke-width="1.15"/>
<text transform="translate(211.10 444.50) rotate(0.04) scale(1 1.123)" font-size="7.70" text-anchor="end">100</text>
<text transform="translate(211.10 457.78) rotate(0.04) scale(1 1.123)" font-size="7.70" text-anchor="end">90</text>
<text transform="translate(211.10 471.06) rotate(0.04) scale(1 1.123)" font-size="7.70" text-anchor="end">80</text>
<text transform="translate(211.10 484.34) rotate(0.04) scale(1 1.123)" font-size="7.70" text-anchor="end">70</text>
<text transform="translate(211.10 497.62) rotate(0.04) scale(1 1.123)" font-size="7.70" text-anchor="end">60</text>
<text transform="translate(211.10 510.90) rotate(0.04) scale(1 1.123)" font-size="7.70" text-anchor="end">50</text>
<text transform="translate(211.10 524.18) rotate(0.04) scale(1 1.123)" font-size="7.70" text-anchor="end">40</text>
<text transform="translate(211.10 537.46) rotate(0.04) scale(1 1.123)" font-size="7.70" text-anchor="end">30</text>
<text transform="translate(211.10 550.74) rotate(0.04) scale(1 1.123)" font-size="7.70" text-anchor="end">20</text>
<text transform="translate(211.10 564.02) rotate(0.04) scale(1 1.123)" font-size="7.70" text-anchor="end">10</text>
<text transform="translate(221.25 569.80) rotate(0.04)" font-size="8.00" text-anchor="middle">0</text>
<text transform="translate(238.50 569.80) rotate(0.04)" font-size="8.00" text-anchor="middle">5</text>
<text transform="translate(255.75 569.80) rotate(0.04)" font-size="8.00" text-anchor="middle">10</text>
<text transform="translate(273.00 569.80) rotate(0.04)" font-size="8.00" text-anchor="middle">15</text>
<text transform="translate(290.25 569.80) rotate(0.04)" font-size="8.00" text-anchor="middle">20</text>
<text transform="translate(307.50 569.80) rotate(0.04)" font-size="8.00" text-anchor="middle">25</text>
<text transform="translate(324.75 569.80) rotate(0.04)" font-size="8.00" text-anchor="middle">30</text>
<text transform="translate(342.00 569.80) rotate(0.04)" font-size="8.00" text-anchor="middle">35</text>
<text transform="translate(359.25 569.80) rotate(0.04)" font-size="8.00" text-anchor="middle">40</text>
<text transform="translate(288.50 579.80) rotate(0.04)" font-size="9.02" text-anchor="middle">Radiation heat flux [kW/m<tspan font-size="5.6" dy="-3.2">2</tspan><tspan dy="3.2">]</tspan></text>
<text transform="translate(193.10 501.40) rotate(-90.04) scale(1 1.080)" font-size="8.70" text-anchor="middle"><tspan font-style="italic">L</tspan><tspan font-style="italic" font-size="6.4" dy="1.8">r</tspan><tspan dy="-1.8"> [m]</tspan></text>
<text transform="translate(279.20 456.80) rotate(0.04) scale(1 1.080)" font-size="9.00" text-anchor="middle">Unconfined</text>
<text transform="translate(279.20 467.60) rotate(0.04) scale(1 1.080)" font-size="9.00" text-anchor="middle"><tspan font-style="italic">d</tspan> = 325 mm</text>
<polyline points="226.97,466.00 237.66,512.40 243.19,521.00 264.57,537.60 275.96,542.00 307.70,549.40 350.82,555.00" fill="none" stroke="#707070" stroke-width="1.12"/>
<rect x="224.94" y="463.97" width="4.06" height="4.06" fill="#fff" stroke="#3a3a3a" stroke-width="1.30" stroke-linejoin="miter"/>
<rect x="235.64" y="510.37" width="4.06" height="4.06" fill="#fff" stroke="#3a3a3a" stroke-width="1.30" stroke-linejoin="miter"/>
<rect x="241.16" y="518.97" width="4.06" height="4.06" fill="#fff" stroke="#3a3a3a" stroke-width="1.30" stroke-linejoin="miter"/>
<rect x="262.55" y="535.57" width="4.06" height="4.06" fill="#fff" stroke="#3a3a3a" stroke-width="1.30" stroke-linejoin="miter"/>
<rect x="273.93" y="539.97" width="4.06" height="4.06" fill="#fff" stroke="#3a3a3a" stroke-width="1.30" stroke-linejoin="miter"/>
<rect x="305.67" y="547.37" width="4.06" height="4.06" fill="#fff" stroke="#3a3a3a" stroke-width="1.30" stroke-linejoin="miter"/>
<rect x="348.80" y="552.97" width="4.06" height="4.06" fill="#fff" stroke="#3a3a3a" stroke-width="1.30" stroke-linejoin="miter"/>
<polyline points="226.97,465.40 237.66,509.00 243.19,518.60 264.57,535.00 275.96,538.60 307.70,547.00 350.82,552.60" fill="none" stroke="#f25560" stroke-width="1.12"/>
<circle cx="226.97" cy="465.40" r="2.24" fill="#fff" stroke="#ee3344" stroke-width="1.30" stroke-linejoin="miter"/>
<circle cx="237.66" cy="509.00" r="2.24" fill="#fff" stroke="#ee3344" stroke-width="1.30" stroke-linejoin="miter"/>
<circle cx="243.19" cy="518.60" r="2.24" fill="#fff" stroke="#ee3344" stroke-width="1.30" stroke-linejoin="miter"/>
<circle cx="264.57" cy="535.00" r="2.24" fill="#fff" stroke="#ee3344" stroke-width="1.30" stroke-linejoin="miter"/>
<circle cx="275.96" cy="538.60" r="2.24" fill="#fff" stroke="#ee3344" stroke-width="1.30" stroke-linejoin="miter"/>
<circle cx="307.70" cy="547.00" r="2.24" fill="#fff" stroke="#ee3344" stroke-width="1.30" stroke-linejoin="miter"/>
<circle cx="350.82" cy="552.60" r="2.24" fill="#fff" stroke="#ee3344" stroke-width="1.30" stroke-linejoin="miter"/>
<polyline points="226.97,455.60 237.66,501.00 243.19,508.60 264.57,525.60 275.96,533.00 307.70,538.00 350.82,542.00" fill="none" stroke="#3a7cf0" stroke-width="1.12"/>
<path d="M226.97 452.41L229.92 457.67L224.02 457.67Z" fill="#fff" stroke="#1560e8" stroke-width="1.30" stroke-linejoin="miter"/>
<path d="M237.66 497.81L240.61 503.06L234.72 503.06Z" fill="#fff" stroke="#1560e8" stroke-width="1.30" stroke-linejoin="miter"/>
<path d="M243.19 505.41L246.13 510.67L240.24 510.67Z" fill="#fff" stroke="#1560e8" stroke-width="1.30" stroke-linejoin="miter"/>
<path d="M264.57 522.41L267.52 527.67L261.62 527.67Z" fill="#fff" stroke="#1560e8" stroke-width="1.30" stroke-linejoin="miter"/>
<path d="M275.96 529.81L278.91 535.07L273.01 535.07Z" fill="#fff" stroke="#1560e8" stroke-width="1.30" stroke-linejoin="miter"/>
<path d="M307.70 534.81L310.65 540.07L304.75 540.07Z" fill="#fff" stroke="#1560e8" stroke-width="1.30" stroke-linejoin="miter"/>
<path d="M350.82 538.81L353.77 544.07L347.88 544.07Z" fill="#fff" stroke="#1560e8" stroke-width="1.30" stroke-linejoin="miter"/>
<polyline points="226.97,452.00 237.66,497.00 243.19,504.00 264.57,519.60 275.96,522.00 307.70,531.00 350.82,537.60" fill="none" stroke="#2fbf78" stroke-width="1.12"/>
<path d="M226.97 455.19L229.92 449.94L224.02 449.94Z" fill="#fff" stroke="#18b064" stroke-width="1.30" stroke-linejoin="miter"/>
<path d="M237.66 500.19L240.61 494.94L234.72 494.94Z" fill="#fff" stroke="#18b064" stroke-width="1.30" stroke-linejoin="miter"/>
<path d="M243.19 507.19L246.13 501.94L240.24 501.94Z" fill="#fff" stroke="#18b064" stroke-width="1.30" stroke-linejoin="miter"/>
<path d="M264.57 522.79L267.52 517.53L261.62 517.53Z" fill="#fff" stroke="#18b064" stroke-width="1.30" stroke-linejoin="miter"/>
<path d="M275.96 525.19L278.91 519.93L273.01 519.93Z" fill="#fff" stroke="#18b064" stroke-width="1.30" stroke-linejoin="miter"/>
<path d="M307.70 534.19L310.65 528.93L304.75 528.93Z" fill="#fff" stroke="#18b064" stroke-width="1.30" stroke-linejoin="miter"/>
<path d="M350.82 540.79L353.77 535.53L347.88 535.53Z" fill="#fff" stroke="#18b064" stroke-width="1.30" stroke-linejoin="miter"/>
<rect x="314.50" y="449.40" width="42.70" height="40.70" fill="#fff" stroke="#606060" stroke-width="0.95"/>
<path d="M315.60 455.80H329.00" stroke="#707070" stroke-width="1.1"/>
<rect x="320.81" y="453.81" width="3.97" height="3.97" fill="#fff" stroke="#3a3a3a" stroke-width="1.30" stroke-linejoin="miter"/>
<text transform="translate(331.20 457.40) rotate(0.04) scale(1 1.090)" font-size="7.80">0 m/s</text>
<path d="M315.60 465.70H329.00" stroke="#f25560" stroke-width="1.1"/>
<circle cx="322.80" cy="465.70" r="2.19" fill="#fff" stroke="#ee3344" stroke-width="1.30" stroke-linejoin="miter"/>
<text transform="translate(331.20 467.30) rotate(0.04) scale(1 1.090)" font-size="7.80">2 m/s</text>
<path d="M315.60 475.60H329.00" stroke="#3a7cf0" stroke-width="1.1"/>
<path d="M322.80 472.48L325.69 477.62L319.91 477.62Z" fill="#fff" stroke="#1560e8" stroke-width="1.30" stroke-linejoin="miter"/>
<text transform="translate(331.20 477.20) rotate(0.04) scale(1 1.090)" font-size="7.80">6 m/s</text>
<path d="M315.60 485.50H329.00" stroke="#2fbf78" stroke-width="1.1"/>
<path d="M322.80 488.62L325.69 483.48L319.91 483.48Z" fill="#fff" stroke="#18b064" stroke-width="1.30" stroke-linejoin="miter"/>
<text transform="translate(331.20 487.10) rotate(0.04) scale(1 1.090)" font-size="7.80">10 m/s</text>
</g>
</svg>
</body></html>
